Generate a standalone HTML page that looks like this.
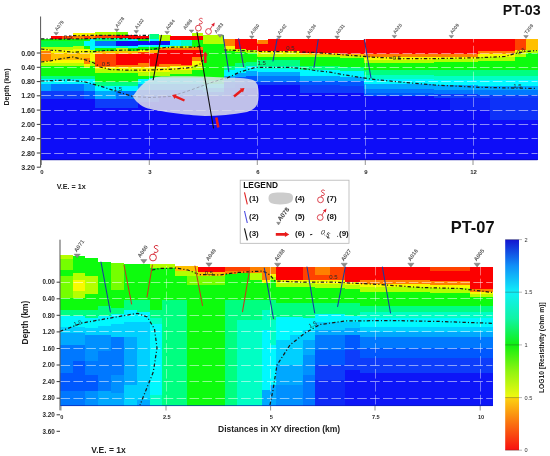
<!DOCTYPE html>
<html><head><meta charset="utf-8"><title>PT-03 / PT-07 resistivity sections</title>
<style>html,body{margin:0;padding:0;background:#fff;width:550px;height:456px;overflow:hidden}
svg{display:block}</style></head><body>
<svg width="550" height="456" viewBox="0 0 550 456" font-family="Liberation Sans, sans-serif">
<rect width="550" height="456" fill="#fff"/>
<defs><clipPath id="ct"><rect x="41" y="20" width="496.5" height="140"/></clipPath><clipPath id="cb"><rect x="60" y="240" width="432.4" height="166"/></clipPath>
<linearGradient id="cbar" x1="0" y1="1" x2="0" y2="0"><stop offset="0" stop-color="#f81010"/><stop offset="0.125" stop-color="#fa7010"/><stop offset="0.245" stop-color="#fcd010"/><stop offset="0.255" stop-color="#eef810"/><stop offset="0.375" stop-color="#90f410"/><stop offset="0.5" stop-color="#10f010"/><stop offset="0.625" stop-color="#10f4a4"/><stop offset="0.75" stop-color="#10f0f8"/><stop offset="0.875" stop-color="#1090f8"/><stop offset="1" stop-color="#1414d0"/></linearGradient><filter id="soft" x="-2%" y="-5%" width="104%" height="110%"><feGaussianBlur stdDeviation="0.7"/></filter><clipPath id="ct2"><rect x="41" y="0" width="497" height="160.2"/></clipPath></defs>
<g id="top" clip-path="url(#ct2)" filter="url(#soft)" shape-rendering="crispEdges"><rect x="41.0" y="38.5" width="10.3" height="2.8" fill="#08fc08"/>
<rect x="41.0" y="41.0" width="10.3" height="6.3" fill="#00fc48"/>
<rect x="41.0" y="47.0" width="10.3" height="2.3" fill="#b4ff00"/>
<rect x="41.0" y="49.0" width="10.3" height="2.3" fill="#f8fa00"/>
<rect x="41.0" y="51.0" width="10.3" height="9.8" fill="#ff8000"/>
<rect x="41.0" y="60.5" width="10.3" height="2.8" fill="#f8fa00"/>
<rect x="41.0" y="63.0" width="10.3" height="3.3" fill="#b4ff00"/>
<rect x="41.0" y="66.0" width="10.3" height="10.3" fill="#08fc08"/>
<rect x="41.0" y="76.0" width="10.3" height="3.3" fill="#00ff80"/>
<rect x="41.0" y="79.0" width="10.3" height="5.3" fill="#00f8ff"/>
<rect x="41.0" y="84.0" width="10.3" height="7.3" fill="#00a8ff"/>
<rect x="41.0" y="91.0" width="10.3" height="8.3" fill="#083cfa"/>
<rect x="41.0" y="99.0" width="10.3" height="61.3" fill="#0a0af8"/>
<rect x="51.0" y="35.6" width="11.3" height="3.7" fill="#fc0404"/>
<rect x="51.0" y="39.0" width="11.3" height="2.3" fill="#08fc08"/>
<rect x="51.0" y="41.0" width="11.3" height="6.3" fill="#00fc48"/>
<rect x="51.0" y="47.0" width="11.3" height="2.8" fill="#b4ff00"/>
<rect x="51.0" y="49.5" width="11.3" height="3.8" fill="#f8fa00"/>
<rect x="51.0" y="53.0" width="11.3" height="6.8" fill="#ffc000"/>
<rect x="51.0" y="59.5" width="11.3" height="3.3" fill="#f8fa00"/>
<rect x="51.0" y="62.5" width="11.3" height="3.8" fill="#b4ff00"/>
<rect x="51.0" y="66.0" width="11.3" height="10.3" fill="#08fc08"/>
<rect x="51.0" y="76.0" width="11.3" height="3.3" fill="#00ff80"/>
<rect x="51.0" y="79.0" width="11.3" height="5.3" fill="#00f8ff"/>
<rect x="51.0" y="84.0" width="11.3" height="7.3" fill="#0078ff"/>
<rect x="51.0" y="91.0" width="11.3" height="8.3" fill="#083cfa"/>
<rect x="51.0" y="99.0" width="11.3" height="61.3" fill="#0a0af8"/>
<rect x="62.0" y="35.6" width="11.3" height="3.7" fill="#ff4200"/>
<rect x="62.0" y="39.0" width="11.3" height="2.3" fill="#08fc08"/>
<rect x="62.0" y="41.0" width="11.3" height="6.3" fill="#00fc48"/>
<rect x="62.0" y="47.0" width="11.3" height="2.8" fill="#b4ff00"/>
<rect x="62.0" y="49.5" width="11.3" height="3.8" fill="#f8fa00"/>
<rect x="62.0" y="53.0" width="11.3" height="6.8" fill="#ffc000"/>
<rect x="62.0" y="59.5" width="11.3" height="3.3" fill="#f8fa00"/>
<rect x="62.0" y="62.5" width="11.3" height="3.8" fill="#b4ff00"/>
<rect x="62.0" y="66.0" width="11.3" height="10.3" fill="#08fc08"/>
<rect x="62.0" y="76.0" width="11.3" height="3.3" fill="#00ff80"/>
<rect x="62.0" y="79.0" width="11.3" height="5.3" fill="#00f8ff"/>
<rect x="62.0" y="84.0" width="11.3" height="7.3" fill="#0078ff"/>
<rect x="62.0" y="91.0" width="11.3" height="8.3" fill="#083cfa"/>
<rect x="62.0" y="99.0" width="11.3" height="61.3" fill="#0a0af8"/>
<rect x="73.0" y="32.9" width="11.3" height="3.0" fill="#f8fa00"/>
<rect x="73.0" y="35.6" width="11.3" height="3.7" fill="#ff8000"/>
<rect x="73.0" y="39.0" width="11.3" height="2.3" fill="#08fc08"/>
<rect x="73.0" y="41.0" width="11.3" height="5.3" fill="#00fc48"/>
<rect x="73.0" y="46.0" width="11.3" height="3.3" fill="#b4ff00"/>
<rect x="73.0" y="49.0" width="11.3" height="4.3" fill="#f8fa00"/>
<rect x="73.0" y="53.0" width="11.3" height="7.3" fill="#ffc000"/>
<rect x="73.0" y="60.0" width="11.3" height="3.3" fill="#f8fa00"/>
<rect x="73.0" y="63.0" width="11.3" height="3.3" fill="#b4ff00"/>
<rect x="73.0" y="66.0" width="11.3" height="10.3" fill="#08fc08"/>
<rect x="73.0" y="76.0" width="11.3" height="3.3" fill="#00ff80"/>
<rect x="73.0" y="79.0" width="11.3" height="5.3" fill="#00f8ff"/>
<rect x="73.0" y="84.0" width="11.3" height="7.3" fill="#0078ff"/>
<rect x="73.0" y="91.0" width="11.3" height="8.3" fill="#083cfa"/>
<rect x="73.0" y="99.0" width="11.3" height="61.3" fill="#0a0af8"/>
<rect x="84.0" y="32.9" width="6.3" height="3.0" fill="#f8fa00"/>
<rect x="84.0" y="35.6" width="6.3" height="3.5" fill="#ff4200"/>
<rect x="84.0" y="38.8" width="6.3" height="2.5" fill="#08fc08"/>
<rect x="84.0" y="41.0" width="6.3" height="5.3" fill="#00f8ff"/>
<rect x="84.0" y="46.0" width="6.3" height="3.3" fill="#08fc08"/>
<rect x="84.0" y="49.0" width="6.3" height="4.3" fill="#f8fa00"/>
<rect x="84.0" y="53.0" width="6.3" height="5.3" fill="#ffc000"/>
<rect x="84.0" y="58.0" width="6.3" height="6.0" fill="#ff8000"/>
<rect x="84.0" y="63.7" width="6.3" height="2.6" fill="#f8fa00"/>
<rect x="84.0" y="66.0" width="6.3" height="2.3" fill="#b4ff00"/>
<rect x="84.0" y="68.0" width="6.3" height="8.3" fill="#08fc08"/>
<rect x="84.0" y="76.0" width="6.3" height="3.3" fill="#00ff80"/>
<rect x="84.0" y="79.0" width="6.3" height="5.3" fill="#00f8ff"/>
<rect x="84.0" y="84.0" width="6.3" height="7.3" fill="#00a8ff"/>
<rect x="84.0" y="91.0" width="6.3" height="8.3" fill="#0058ff"/>
<rect x="84.0" y="99.0" width="6.3" height="61.3" fill="#0a0af8"/>
<rect x="90.0" y="32.9" width="4.9" height="3.0" fill="#f8fa00"/>
<rect x="90.0" y="35.6" width="4.9" height="3.5" fill="#ff8000"/>
<rect x="90.0" y="38.8" width="4.9" height="11.2" fill="#00f8ff"/>
<rect x="90.0" y="49.7" width="4.9" height="3.1" fill="#b4ff00"/>
<rect x="90.0" y="52.5" width="4.9" height="8.8" fill="#f8fa00"/>
<rect x="90.0" y="61.0" width="4.9" height="5.3" fill="#b4ff00"/>
<rect x="90.0" y="66.0" width="4.9" height="10.3" fill="#08fc08"/>
<rect x="90.0" y="76.0" width="4.9" height="3.3" fill="#00ff80"/>
<rect x="90.0" y="79.0" width="4.9" height="5.3" fill="#00f8ff"/>
<rect x="90.0" y="84.0" width="4.9" height="7.3" fill="#00a8ff"/>
<rect x="90.0" y="91.0" width="4.9" height="8.3" fill="#0058ff"/>
<rect x="90.0" y="99.0" width="4.9" height="61.3" fill="#0a0af8"/>
<rect x="94.6" y="32.0" width="10.7" height="3.1" fill="#b4ff00"/>
<rect x="94.6" y="34.8" width="10.7" height="3.8" fill="#ff4200"/>
<rect x="94.6" y="38.3" width="10.7" height="3.1" fill="#00ff80"/>
<rect x="94.6" y="41.1" width="10.7" height="5.4" fill="#0078ff"/>
<rect x="94.6" y="46.2" width="10.7" height="2.1" fill="#00f8ff"/>
<rect x="94.6" y="48.0" width="10.7" height="3.3" fill="#08fc08"/>
<rect x="94.6" y="51.0" width="10.7" height="3.0" fill="#ffc000"/>
<rect x="94.6" y="53.7" width="10.7" height="12.2" fill="#ff4200"/>
<rect x="94.6" y="65.6" width="10.7" height="2.0" fill="#ff8000"/>
<rect x="94.6" y="67.3" width="10.7" height="2.0" fill="#f8fa00"/>
<rect x="94.6" y="69.0" width="10.7" height="4.3" fill="#b4ff00"/>
<rect x="94.6" y="73.0" width="10.7" height="9.3" fill="#08fc08"/>
<rect x="94.6" y="82.0" width="10.7" height="4.3" fill="#00ff80"/>
<rect x="94.6" y="86.0" width="10.7" height="5.3" fill="#00f8ff"/>
<rect x="94.6" y="91.0" width="10.7" height="8.3" fill="#00a8ff"/>
<rect x="94.6" y="99.0" width="10.7" height="9.3" fill="#083cfa"/>
<rect x="94.6" y="108.0" width="10.7" height="52.3" fill="#0a0af8"/>
<rect x="105.0" y="32.0" width="11.5" height="3.1" fill="#b4ff00"/>
<rect x="105.0" y="34.8" width="11.5" height="3.8" fill="#ff4200"/>
<rect x="105.0" y="38.3" width="11.5" height="3.1" fill="#00ff80"/>
<rect x="105.0" y="41.1" width="11.5" height="5.4" fill="#0078ff"/>
<rect x="105.0" y="46.2" width="11.5" height="2.1" fill="#00f8ff"/>
<rect x="105.0" y="48.0" width="11.5" height="3.3" fill="#08fc08"/>
<rect x="105.0" y="51.0" width="11.5" height="3.0" fill="#ffc000"/>
<rect x="105.0" y="53.7" width="11.5" height="12.2" fill="#ff4200"/>
<rect x="105.0" y="65.6" width="11.5" height="2.0" fill="#ff8000"/>
<rect x="105.0" y="67.3" width="11.5" height="2.0" fill="#f8fa00"/>
<rect x="105.0" y="69.0" width="11.5" height="4.3" fill="#b4ff00"/>
<rect x="105.0" y="73.0" width="11.5" height="9.3" fill="#08fc08"/>
<rect x="105.0" y="82.0" width="11.5" height="4.3" fill="#00ff80"/>
<rect x="105.0" y="86.0" width="11.5" height="5.3" fill="#00f8ff"/>
<rect x="105.0" y="91.0" width="11.5" height="8.3" fill="#00a8ff"/>
<rect x="105.0" y="99.0" width="11.5" height="9.3" fill="#083cfa"/>
<rect x="105.0" y="108.0" width="11.5" height="52.3" fill="#0a0af8"/>
<rect x="116.2" y="32.0" width="11.7" height="3.1" fill="#74ff00"/>
<rect x="116.2" y="34.8" width="11.7" height="3.8" fill="#fc0404"/>
<rect x="116.2" y="38.3" width="11.7" height="2.5" fill="#00ffc4"/>
<rect x="116.2" y="40.5" width="11.7" height="6.0" fill="#0a0af8"/>
<rect x="116.2" y="46.2" width="11.7" height="2.1" fill="#00ffc4"/>
<rect x="116.2" y="48.0" width="11.7" height="3.7" fill="#b4ff00"/>
<rect x="116.2" y="51.4" width="11.7" height="2.6" fill="#ffc000"/>
<rect x="116.2" y="53.7" width="11.7" height="11.1" fill="#fc0404"/>
<rect x="116.2" y="64.5" width="11.7" height="3.1" fill="#ff8000"/>
<rect x="116.2" y="67.3" width="11.7" height="2.6" fill="#f8fa00"/>
<rect x="116.2" y="69.6" width="11.7" height="3.7" fill="#b4ff00"/>
<rect x="116.2" y="73.0" width="11.7" height="9.3" fill="#08fc08"/>
<rect x="116.2" y="82.0" width="11.7" height="4.3" fill="#00ff80"/>
<rect x="116.2" y="86.0" width="11.7" height="5.3" fill="#00f8ff"/>
<rect x="116.2" y="91.0" width="11.7" height="8.3" fill="#0078ff"/>
<rect x="116.2" y="99.0" width="11.7" height="9.3" fill="#083cfa"/>
<rect x="116.2" y="108.0" width="11.7" height="52.3" fill="#0a0af8"/>
<rect x="127.6" y="34.8" width="10.7" height="4.3" fill="#fc0404"/>
<rect x="127.6" y="38.8" width="10.7" height="2.0" fill="#00f8ff"/>
<rect x="127.6" y="40.5" width="10.7" height="6.0" fill="#0a0af8"/>
<rect x="127.6" y="46.2" width="10.7" height="2.1" fill="#00f8ff"/>
<rect x="127.6" y="48.0" width="10.7" height="3.3" fill="#08fc08"/>
<rect x="127.6" y="51.0" width="10.7" height="3.0" fill="#ffc000"/>
<rect x="127.6" y="53.7" width="10.7" height="11.1" fill="#fc0404"/>
<rect x="127.6" y="64.5" width="10.7" height="3.1" fill="#ff8000"/>
<rect x="127.6" y="67.3" width="10.7" height="2.6" fill="#f8fa00"/>
<rect x="127.6" y="69.6" width="10.7" height="3.7" fill="#b4ff00"/>
<rect x="127.6" y="73.0" width="10.7" height="9.3" fill="#08fc08"/>
<rect x="127.6" y="82.0" width="10.7" height="4.3" fill="#00ff80"/>
<rect x="127.6" y="86.0" width="10.7" height="5.3" fill="#00f8ff"/>
<rect x="127.6" y="91.0" width="10.7" height="8.3" fill="#0078ff"/>
<rect x="127.6" y="99.0" width="10.7" height="9.3" fill="#083cfa"/>
<rect x="127.6" y="108.0" width="10.7" height="52.3" fill="#0a0af8"/>
<rect x="138.0" y="35.5" width="11.3" height="3.6" fill="#fc0404"/>
<rect x="138.0" y="38.8" width="11.3" height="2.5" fill="#08fc08"/>
<rect x="138.0" y="41.0" width="11.3" height="4.3" fill="#0a0af8"/>
<rect x="138.0" y="45.0" width="11.3" height="2.1" fill="#00f8ff"/>
<rect x="138.0" y="46.8" width="11.3" height="3.7" fill="#08fc08"/>
<rect x="138.0" y="50.2" width="11.3" height="2.1" fill="#f8fa00"/>
<rect x="138.0" y="52.0" width="11.3" height="2.5" fill="#ff4200"/>
<rect x="138.0" y="54.2" width="11.3" height="9.4" fill="#fc0404"/>
<rect x="138.0" y="63.3" width="11.3" height="4.3" fill="#ff8000"/>
<rect x="138.0" y="67.3" width="11.3" height="5.0" fill="#f8fa00"/>
<rect x="138.0" y="72.0" width="11.3" height="4.3" fill="#b4ff00"/>
<rect x="138.0" y="76.0" width="11.3" height="3.3" fill="#08fc08"/>
<rect x="138.0" y="79.0" width="11.3" height="5.3" fill="#00f8ff"/>
<rect x="138.0" y="84.0" width="11.3" height="6.3" fill="#00a8ff"/>
<rect x="138.0" y="90.0" width="11.3" height="6.3" fill="#0058ff"/>
<rect x="138.0" y="96.0" width="11.3" height="6.3" fill="#083cfa"/>
<rect x="138.0" y="102.0" width="11.3" height="58.3" fill="#0a0af8"/>
<rect x="149.0" y="34.3" width="10.1" height="5.4" fill="#00ff80"/>
<rect x="149.0" y="39.4" width="10.1" height="1.9" fill="#00f8ff"/>
<rect x="149.0" y="41.0" width="10.1" height="4.3" fill="#0a0af8"/>
<rect x="149.0" y="45.0" width="10.1" height="2.3" fill="#00f8ff"/>
<rect x="149.0" y="47.0" width="10.1" height="3.3" fill="#08fc08"/>
<rect x="149.0" y="50.0" width="10.1" height="2.8" fill="#ffc000"/>
<rect x="149.0" y="52.5" width="10.1" height="13.4" fill="#fc0404"/>
<rect x="149.0" y="65.6" width="10.1" height="2.0" fill="#ff8000"/>
<rect x="149.0" y="67.3" width="10.1" height="5.0" fill="#f8fa00"/>
<rect x="149.0" y="72.0" width="10.1" height="4.3" fill="#b4ff00"/>
<rect x="149.0" y="76.0" width="10.1" height="2.3" fill="#08fc08"/>
<rect x="149.0" y="78.0" width="10.1" height="6.3" fill="#00f8ff"/>
<rect x="149.0" y="84.0" width="10.1" height="6.3" fill="#00a8ff"/>
<rect x="149.0" y="90.0" width="10.1" height="6.3" fill="#0058ff"/>
<rect x="149.0" y="96.0" width="10.1" height="6.3" fill="#083cfa"/>
<rect x="149.0" y="102.0" width="10.1" height="58.3" fill="#0a0af8"/>
<rect x="158.8" y="35.4" width="11.7" height="5.9" fill="#b4ff00"/>
<rect x="158.8" y="41.0" width="11.7" height="4.5" fill="#0a0af8"/>
<rect x="158.8" y="45.2" width="11.7" height="1.7" fill="#00f8ff"/>
<rect x="158.8" y="46.6" width="11.7" height="2.1" fill="#b4ff00"/>
<rect x="158.8" y="48.4" width="11.7" height="1.7" fill="#ff8000"/>
<rect x="158.8" y="49.8" width="11.7" height="14.5" fill="#fc0404"/>
<rect x="158.8" y="64.0" width="11.7" height="3.1" fill="#ff8000"/>
<rect x="158.8" y="66.8" width="11.7" height="5.5" fill="#f8fa00"/>
<rect x="158.8" y="72.0" width="11.7" height="4.3" fill="#b4ff00"/>
<rect x="158.8" y="76.0" width="11.7" height="2.3" fill="#08fc08"/>
<rect x="158.8" y="78.0" width="11.7" height="6.3" fill="#00f8ff"/>
<rect x="158.8" y="84.0" width="11.7" height="6.3" fill="#00a8ff"/>
<rect x="158.8" y="90.0" width="11.7" height="6.3" fill="#0058ff"/>
<rect x="158.8" y="96.0" width="11.7" height="64.3" fill="#0a0af8"/>
<rect x="170.2" y="35.5" width="11.1" height="4.5" fill="#fc0404"/>
<rect x="170.2" y="39.7" width="11.1" height="6.2" fill="#00f8ff"/>
<rect x="170.2" y="45.6" width="11.1" height="2.2" fill="#b4ff00"/>
<rect x="170.2" y="47.5" width="11.1" height="2.6" fill="#ff8000"/>
<rect x="170.2" y="49.8" width="11.1" height="14.5" fill="#fc0404"/>
<rect x="170.2" y="64.0" width="11.1" height="2.3" fill="#ff8000"/>
<rect x="170.2" y="66.0" width="11.1" height="4.3" fill="#f8fa00"/>
<rect x="170.2" y="70.0" width="11.1" height="4.3" fill="#b4ff00"/>
<rect x="170.2" y="74.0" width="11.1" height="4.3" fill="#08fc08"/>
<rect x="170.2" y="78.0" width="11.1" height="6.3" fill="#00f8ff"/>
<rect x="170.2" y="84.0" width="11.1" height="6.3" fill="#00a8ff"/>
<rect x="170.2" y="90.0" width="11.1" height="6.3" fill="#0058ff"/>
<rect x="170.2" y="96.0" width="11.1" height="64.3" fill="#0a0af8"/>
<rect x="181.0" y="35.5" width="11.2" height="4.5" fill="#fc0404"/>
<rect x="181.0" y="39.7" width="11.2" height="6.2" fill="#00ffc4"/>
<rect x="181.0" y="45.6" width="11.2" height="2.2" fill="#b4ff00"/>
<rect x="181.0" y="47.5" width="11.2" height="2.6" fill="#ff8000"/>
<rect x="181.0" y="49.8" width="11.2" height="15.0" fill="#fc0404"/>
<rect x="181.0" y="64.5" width="11.2" height="1.8" fill="#ff8000"/>
<rect x="181.0" y="66.0" width="11.2" height="4.3" fill="#f8fa00"/>
<rect x="181.0" y="70.0" width="11.2" height="4.3" fill="#b4ff00"/>
<rect x="181.0" y="74.0" width="11.2" height="4.3" fill="#08fc08"/>
<rect x="181.0" y="78.0" width="11.2" height="6.3" fill="#00f8ff"/>
<rect x="181.0" y="84.0" width="11.2" height="6.3" fill="#00a8ff"/>
<rect x="181.0" y="90.0" width="11.2" height="6.3" fill="#0058ff"/>
<rect x="181.0" y="96.0" width="11.2" height="64.3" fill="#0a0af8"/>
<rect x="191.9" y="32.8" width="11.4" height="3.0" fill="#b4ff00"/>
<rect x="191.9" y="35.5" width="11.4" height="4.5" fill="#fc0404"/>
<rect x="191.9" y="39.7" width="11.4" height="7.6" fill="#08fc08"/>
<rect x="191.9" y="47.0" width="11.4" height="3.1" fill="#ff8000"/>
<rect x="191.9" y="49.8" width="11.4" height="7.2" fill="#fc0404"/>
<rect x="191.9" y="56.7" width="11.4" height="4.9" fill="#ff8000"/>
<rect x="191.9" y="61.3" width="11.4" height="4.9" fill="#f8fa00"/>
<rect x="191.9" y="65.9" width="11.4" height="4.4" fill="#b4ff00"/>
<rect x="191.9" y="70.0" width="11.4" height="8.3" fill="#08fc08"/>
<rect x="191.9" y="78.0" width="11.4" height="6.3" fill="#00f8ff"/>
<rect x="191.9" y="84.0" width="11.4" height="6.3" fill="#00a8ff"/>
<rect x="191.9" y="90.0" width="11.4" height="6.3" fill="#0058ff"/>
<rect x="191.9" y="96.0" width="11.4" height="64.3" fill="#0a0af8"/>
<rect x="203.0" y="34.5" width="10.3" height="9.8" fill="#b4ff00"/>
<rect x="203.0" y="44.0" width="10.3" height="36.3" fill="#08fc08"/>
<rect x="203.0" y="80.0" width="10.3" height="4.3" fill="#00ff80"/>
<rect x="203.0" y="84.0" width="10.3" height="4.3" fill="#00f8ff"/>
<rect x="203.0" y="88.0" width="10.3" height="4.3" fill="#00a8ff"/>
<rect x="203.0" y="92.0" width="10.3" height="4.3" fill="#0058ff"/>
<rect x="203.0" y="96.0" width="10.3" height="64.3" fill="#0a0af8"/>
<rect x="213.0" y="34.5" width="11.3" height="9.8" fill="#b4ff00"/>
<rect x="213.0" y="44.0" width="11.3" height="36.3" fill="#08fc08"/>
<rect x="213.0" y="80.0" width="11.3" height="4.3" fill="#00ff80"/>
<rect x="213.0" y="84.0" width="11.3" height="4.3" fill="#00f8ff"/>
<rect x="213.0" y="88.0" width="11.3" height="4.3" fill="#00a8ff"/>
<rect x="213.0" y="92.0" width="11.3" height="4.3" fill="#0058ff"/>
<rect x="213.0" y="96.0" width="11.3" height="64.3" fill="#0a0af8"/>
<rect x="224.0" y="38.7" width="11.3" height="7.6" fill="#ff8000"/>
<rect x="224.0" y="46.0" width="11.3" height="3.3" fill="#f8fa00"/>
<rect x="224.0" y="49.0" width="11.3" height="2.3" fill="#b4ff00"/>
<rect x="224.0" y="51.0" width="11.3" height="15.3" fill="#08fc08"/>
<rect x="224.0" y="66.0" width="11.3" height="4.3" fill="#00ff80"/>
<rect x="224.0" y="70.0" width="11.3" height="6.3" fill="#00f8ff"/>
<rect x="224.0" y="76.0" width="11.3" height="6.3" fill="#00a8ff"/>
<rect x="224.0" y="82.0" width="11.3" height="6.3" fill="#0058ff"/>
<rect x="224.0" y="88.0" width="11.3" height="7.3" fill="#083cfa"/>
<rect x="224.0" y="95.0" width="11.3" height="65.3" fill="#0a0af8"/>
<rect x="235.0" y="38.7" width="11.3" height="11.0" fill="#fc0404"/>
<rect x="235.0" y="49.4" width="11.3" height="2.9" fill="#b4ff00"/>
<rect x="235.0" y="52.0" width="11.3" height="11.3" fill="#08fc08"/>
<rect x="235.0" y="63.0" width="11.3" height="5.3" fill="#00ff80"/>
<rect x="235.0" y="68.0" width="11.3" height="5.3" fill="#00f8ff"/>
<rect x="235.0" y="73.0" width="11.3" height="4.3" fill="#00a8ff"/>
<rect x="235.0" y="77.0" width="11.3" height="7.3" fill="#0058ff"/>
<rect x="235.0" y="84.0" width="11.3" height="8.3" fill="#083cfa"/>
<rect x="235.0" y="92.0" width="11.3" height="68.3" fill="#0a0af8"/>
<rect x="246.0" y="39.0" width="11.3" height="11.3" fill="#fc0404"/>
<rect x="246.0" y="50.0" width="11.3" height="3.3" fill="#b4ff00"/>
<rect x="246.0" y="53.0" width="11.3" height="9.3" fill="#08fc08"/>
<rect x="246.0" y="62.0" width="11.3" height="4.3" fill="#00ff80"/>
<rect x="246.0" y="66.0" width="11.3" height="5.3" fill="#00f8ff"/>
<rect x="246.0" y="71.0" width="11.3" height="5.3" fill="#00a8ff"/>
<rect x="246.0" y="76.0" width="11.3" height="6.3" fill="#0058ff"/>
<rect x="246.0" y="82.0" width="11.3" height="6.3" fill="#083cfa"/>
<rect x="246.0" y="88.0" width="11.3" height="72.3" fill="#0a0af8"/>
<rect x="257.0" y="39.5" width="11.3" height="1.1" fill="#fc0404"/>
<rect x="257.0" y="40.3" width="11.3" height="3.6" fill="#ff8000"/>
<rect x="257.0" y="43.6" width="11.3" height="7.7" fill="#fc0404"/>
<rect x="257.0" y="51.0" width="11.3" height="3.3" fill="#f8fa00"/>
<rect x="257.0" y="54.0" width="11.3" height="3.1" fill="#b4ff00"/>
<rect x="257.0" y="56.8" width="11.3" height="3.5" fill="#08fc08"/>
<rect x="257.0" y="60.0" width="11.3" height="6.3" fill="#00ff80"/>
<rect x="257.0" y="66.0" width="11.3" height="3.3" fill="#00ffc4"/>
<rect x="257.0" y="69.0" width="11.3" height="3.3" fill="#00f8ff"/>
<rect x="257.0" y="72.0" width="11.3" height="4.3" fill="#00a8ff"/>
<rect x="257.0" y="76.0" width="11.3" height="5.8" fill="#0078ff"/>
<rect x="257.0" y="81.5" width="11.3" height="3.8" fill="#083cfa"/>
<rect x="257.0" y="85.0" width="11.3" height="75.3" fill="#0a0af8"/>
<rect x="268.0" y="38.7" width="11.3" height="12.6" fill="#fc0404"/>
<rect x="268.0" y="51.0" width="11.3" height="3.3" fill="#f8fa00"/>
<rect x="268.0" y="54.0" width="11.3" height="3.1" fill="#b4ff00"/>
<rect x="268.0" y="56.8" width="11.3" height="3.5" fill="#08fc08"/>
<rect x="268.0" y="60.0" width="11.3" height="6.3" fill="#00ff80"/>
<rect x="268.0" y="66.0" width="11.3" height="3.3" fill="#00ffc4"/>
<rect x="268.0" y="69.0" width="11.3" height="3.3" fill="#00f8ff"/>
<rect x="268.0" y="72.0" width="11.3" height="4.3" fill="#00a8ff"/>
<rect x="268.0" y="76.0" width="11.3" height="5.8" fill="#0078ff"/>
<rect x="268.0" y="81.5" width="11.3" height="3.8" fill="#083cfa"/>
<rect x="268.0" y="85.0" width="11.3" height="75.3" fill="#0a0af8"/>
<rect x="279.0" y="38.7" width="11.3" height="12.6" fill="#fc0404"/>
<rect x="279.0" y="51.0" width="11.3" height="3.3" fill="#f8fa00"/>
<rect x="279.0" y="54.0" width="11.3" height="3.1" fill="#b4ff00"/>
<rect x="279.0" y="56.8" width="11.3" height="3.5" fill="#08fc08"/>
<rect x="279.0" y="60.0" width="11.3" height="6.3" fill="#00ff80"/>
<rect x="279.0" y="66.0" width="11.3" height="3.3" fill="#00ffc4"/>
<rect x="279.0" y="69.0" width="11.3" height="3.3" fill="#00f8ff"/>
<rect x="279.0" y="72.0" width="11.3" height="4.3" fill="#00a8ff"/>
<rect x="279.0" y="76.0" width="11.3" height="5.8" fill="#0078ff"/>
<rect x="279.0" y="81.5" width="11.3" height="3.8" fill="#083cfa"/>
<rect x="279.0" y="85.0" width="11.3" height="75.3" fill="#0a0af8"/>
<rect x="290.0" y="38.7" width="10.3" height="12.6" fill="#fc0404"/>
<rect x="290.0" y="51.0" width="10.3" height="3.3" fill="#f8fa00"/>
<rect x="290.0" y="54.0" width="10.3" height="3.1" fill="#b4ff00"/>
<rect x="290.0" y="56.8" width="10.3" height="3.5" fill="#08fc08"/>
<rect x="290.0" y="60.0" width="10.3" height="6.3" fill="#00ff80"/>
<rect x="290.0" y="66.0" width="10.3" height="3.3" fill="#00ffc4"/>
<rect x="290.0" y="69.0" width="10.3" height="3.3" fill="#00f8ff"/>
<rect x="290.0" y="72.0" width="10.3" height="4.3" fill="#00a8ff"/>
<rect x="290.0" y="76.0" width="10.3" height="5.8" fill="#0078ff"/>
<rect x="290.0" y="81.5" width="10.3" height="3.8" fill="#083cfa"/>
<rect x="290.0" y="85.0" width="10.3" height="75.3" fill="#0a0af8"/>
<rect x="300.0" y="38.9" width="11.3" height="13.9" fill="#fc0404"/>
<rect x="300.0" y="52.5" width="11.3" height="2.8" fill="#ffc000"/>
<rect x="300.0" y="55.0" width="11.3" height="2.3" fill="#b4ff00"/>
<rect x="300.0" y="57.0" width="11.3" height="9.3" fill="#08fc08"/>
<rect x="300.0" y="66.0" width="11.3" height="4.3" fill="#00ff80"/>
<rect x="300.0" y="70.0" width="11.3" height="6.3" fill="#00f8ff"/>
<rect x="300.0" y="76.0" width="11.3" height="4.8" fill="#00a8ff"/>
<rect x="300.0" y="80.5" width="11.3" height="4.8" fill="#0058ff"/>
<rect x="300.0" y="85.0" width="11.3" height="8.3" fill="#083cfa"/>
<rect x="300.0" y="93.0" width="11.3" height="67.3" fill="#0a0af8"/>
<rect x="311.0" y="38.9" width="11.3" height="13.9" fill="#fc0404"/>
<rect x="311.0" y="52.5" width="11.3" height="2.8" fill="#ffc000"/>
<rect x="311.0" y="55.0" width="11.3" height="2.3" fill="#b4ff00"/>
<rect x="311.0" y="57.0" width="11.3" height="9.3" fill="#08fc08"/>
<rect x="311.0" y="66.0" width="11.3" height="4.3" fill="#00ff80"/>
<rect x="311.0" y="70.0" width="11.3" height="6.3" fill="#00f8ff"/>
<rect x="311.0" y="76.0" width="11.3" height="4.8" fill="#00a8ff"/>
<rect x="311.0" y="80.5" width="11.3" height="4.8" fill="#0058ff"/>
<rect x="311.0" y="85.0" width="11.3" height="8.3" fill="#083cfa"/>
<rect x="311.0" y="93.0" width="11.3" height="67.3" fill="#0a0af8"/>
<rect x="322.0" y="38.9" width="8.3" height="13.9" fill="#fc0404"/>
<rect x="322.0" y="52.5" width="8.3" height="2.8" fill="#ffc000"/>
<rect x="322.0" y="55.0" width="8.3" height="2.3" fill="#b4ff00"/>
<rect x="322.0" y="57.0" width="8.3" height="9.3" fill="#08fc08"/>
<rect x="322.0" y="66.0" width="8.3" height="4.3" fill="#00ff80"/>
<rect x="322.0" y="70.0" width="8.3" height="6.3" fill="#00f8ff"/>
<rect x="322.0" y="76.0" width="8.3" height="4.8" fill="#00a8ff"/>
<rect x="322.0" y="80.5" width="8.3" height="4.8" fill="#0058ff"/>
<rect x="322.0" y="85.0" width="8.3" height="8.3" fill="#083cfa"/>
<rect x="322.0" y="93.0" width="8.3" height="67.3" fill="#0a0af8"/>
<rect x="330.0" y="38.9" width="10.3" height="13.9" fill="#fc0404"/>
<rect x="330.0" y="52.5" width="10.3" height="2.8" fill="#ffc000"/>
<rect x="330.0" y="55.0" width="10.3" height="2.3" fill="#b4ff00"/>
<rect x="330.0" y="57.0" width="10.3" height="9.3" fill="#08fc08"/>
<rect x="330.0" y="66.0" width="10.3" height="4.3" fill="#00ff80"/>
<rect x="330.0" y="70.0" width="10.3" height="6.3" fill="#00f8ff"/>
<rect x="330.0" y="76.0" width="10.3" height="4.8" fill="#00a8ff"/>
<rect x="330.0" y="80.5" width="10.3" height="4.8" fill="#0058ff"/>
<rect x="330.0" y="85.0" width="10.3" height="8.3" fill="#083cfa"/>
<rect x="330.0" y="93.0" width="10.3" height="67.3" fill="#0a0af8"/>
<rect x="340.0" y="39.5" width="12.3" height="14.8" fill="#fc0404"/>
<rect x="340.0" y="54.0" width="12.3" height="2.3" fill="#ffc000"/>
<rect x="340.0" y="56.0" width="12.3" height="2.3" fill="#b4ff00"/>
<rect x="340.0" y="58.0" width="12.3" height="9.3" fill="#08fc08"/>
<rect x="340.0" y="67.0" width="12.3" height="4.3" fill="#00ff80"/>
<rect x="340.0" y="71.0" width="12.3" height="6.3" fill="#00f8ff"/>
<rect x="340.0" y="77.0" width="12.3" height="4.3" fill="#00a8ff"/>
<rect x="340.0" y="81.0" width="12.3" height="5.3" fill="#0058ff"/>
<rect x="340.0" y="86.0" width="12.3" height="7.3" fill="#083cfa"/>
<rect x="340.0" y="93.0" width="12.3" height="67.3" fill="#0a0af8"/>
<rect x="352.0" y="39.5" width="12.3" height="14.8" fill="#fc0404"/>
<rect x="352.0" y="54.0" width="12.3" height="2.3" fill="#ffc000"/>
<rect x="352.0" y="56.0" width="12.3" height="2.3" fill="#b4ff00"/>
<rect x="352.0" y="58.0" width="12.3" height="9.3" fill="#08fc08"/>
<rect x="352.0" y="67.0" width="12.3" height="4.3" fill="#00ff80"/>
<rect x="352.0" y="71.0" width="12.3" height="6.3" fill="#00f8ff"/>
<rect x="352.0" y="77.0" width="12.3" height="4.3" fill="#00a8ff"/>
<rect x="352.0" y="81.0" width="12.3" height="5.3" fill="#0058ff"/>
<rect x="352.0" y="86.0" width="12.3" height="7.3" fill="#083cfa"/>
<rect x="352.0" y="93.0" width="12.3" height="67.3" fill="#0a0af8"/>
<rect x="364.0" y="38.9" width="11.3" height="15.4" fill="#fc0404"/>
<rect x="364.0" y="54.0" width="11.3" height="3.3" fill="#ff8000"/>
<rect x="364.0" y="57.0" width="11.3" height="3.3" fill="#f8fa00"/>
<rect x="364.0" y="60.0" width="11.3" height="3.3" fill="#b4ff00"/>
<rect x="364.0" y="63.0" width="11.3" height="7.3" fill="#08fc08"/>
<rect x="364.0" y="70.0" width="11.3" height="5.3" fill="#00ff80"/>
<rect x="364.0" y="75.0" width="11.3" height="4.3" fill="#00ffc4"/>
<rect x="364.0" y="79.0" width="11.3" height="5.3" fill="#00f8ff"/>
<rect x="364.0" y="84.0" width="11.3" height="5.3" fill="#00a8ff"/>
<rect x="364.0" y="89.0" width="11.3" height="3.8" fill="#0078ff"/>
<rect x="364.0" y="92.5" width="11.3" height="3.8" fill="#0058ff"/>
<rect x="364.0" y="96.0" width="11.3" height="64.3" fill="#0a0af8"/>
<rect x="375.0" y="38.9" width="11.3" height="15.4" fill="#fc0404"/>
<rect x="375.0" y="54.0" width="11.3" height="3.3" fill="#ff8000"/>
<rect x="375.0" y="57.0" width="11.3" height="3.3" fill="#f8fa00"/>
<rect x="375.0" y="60.0" width="11.3" height="3.3" fill="#b4ff00"/>
<rect x="375.0" y="63.0" width="11.3" height="7.3" fill="#08fc08"/>
<rect x="375.0" y="70.0" width="11.3" height="5.3" fill="#00ff80"/>
<rect x="375.0" y="75.0" width="11.3" height="4.3" fill="#00ffc4"/>
<rect x="375.0" y="79.0" width="11.3" height="5.3" fill="#00f8ff"/>
<rect x="375.0" y="84.0" width="11.3" height="5.3" fill="#00a8ff"/>
<rect x="375.0" y="89.0" width="11.3" height="3.8" fill="#0078ff"/>
<rect x="375.0" y="92.5" width="11.3" height="3.8" fill="#0058ff"/>
<rect x="375.0" y="96.0" width="11.3" height="64.3" fill="#0a0af8"/>
<rect x="386.0" y="38.9" width="11.3" height="15.4" fill="#fc0404"/>
<rect x="386.0" y="54.0" width="11.3" height="3.3" fill="#ff8000"/>
<rect x="386.0" y="57.0" width="11.3" height="3.3" fill="#f8fa00"/>
<rect x="386.0" y="60.0" width="11.3" height="3.3" fill="#b4ff00"/>
<rect x="386.0" y="63.0" width="11.3" height="7.3" fill="#08fc08"/>
<rect x="386.0" y="70.0" width="11.3" height="5.3" fill="#00ff80"/>
<rect x="386.0" y="75.0" width="11.3" height="4.3" fill="#00ffc4"/>
<rect x="386.0" y="79.0" width="11.3" height="5.3" fill="#00f8ff"/>
<rect x="386.0" y="84.0" width="11.3" height="5.3" fill="#00a8ff"/>
<rect x="386.0" y="89.0" width="11.3" height="3.8" fill="#0078ff"/>
<rect x="386.0" y="92.5" width="11.3" height="3.8" fill="#0058ff"/>
<rect x="386.0" y="96.0" width="11.3" height="64.3" fill="#0a0af8"/>
<rect x="397.0" y="38.9" width="11.3" height="15.4" fill="#fc0404"/>
<rect x="397.0" y="54.0" width="11.3" height="3.3" fill="#ff8000"/>
<rect x="397.0" y="57.0" width="11.3" height="3.3" fill="#f8fa00"/>
<rect x="397.0" y="60.0" width="11.3" height="3.3" fill="#b4ff00"/>
<rect x="397.0" y="63.0" width="11.3" height="7.3" fill="#08fc08"/>
<rect x="397.0" y="70.0" width="11.3" height="5.3" fill="#00ff80"/>
<rect x="397.0" y="75.0" width="11.3" height="4.3" fill="#00ffc4"/>
<rect x="397.0" y="79.0" width="11.3" height="5.3" fill="#00f8ff"/>
<rect x="397.0" y="84.0" width="11.3" height="5.3" fill="#00a8ff"/>
<rect x="397.0" y="89.0" width="11.3" height="3.8" fill="#0078ff"/>
<rect x="397.0" y="92.5" width="11.3" height="3.8" fill="#0058ff"/>
<rect x="397.0" y="96.0" width="11.3" height="64.3" fill="#0a0af8"/>
<rect x="408.0" y="38.9" width="12.3" height="15.4" fill="#fc0404"/>
<rect x="408.0" y="54.0" width="12.3" height="3.3" fill="#ff8000"/>
<rect x="408.0" y="57.0" width="12.3" height="3.3" fill="#f8fa00"/>
<rect x="408.0" y="60.0" width="12.3" height="3.3" fill="#b4ff00"/>
<rect x="408.0" y="63.0" width="12.3" height="7.3" fill="#08fc08"/>
<rect x="408.0" y="70.0" width="12.3" height="5.3" fill="#00ff80"/>
<rect x="408.0" y="75.0" width="12.3" height="4.3" fill="#00ffc4"/>
<rect x="408.0" y="79.0" width="12.3" height="5.3" fill="#00f8ff"/>
<rect x="408.0" y="84.0" width="12.3" height="5.3" fill="#00a8ff"/>
<rect x="408.0" y="89.0" width="12.3" height="3.8" fill="#0078ff"/>
<rect x="408.0" y="92.5" width="12.3" height="3.8" fill="#0058ff"/>
<rect x="408.0" y="96.0" width="12.3" height="64.3" fill="#0a0af8"/>
<rect x="420.0" y="38.9" width="14.3" height="15.4" fill="#fc0404"/>
<rect x="420.0" y="54.0" width="14.3" height="3.3" fill="#ff8000"/>
<rect x="420.0" y="57.0" width="14.3" height="3.3" fill="#f8fa00"/>
<rect x="420.0" y="60.0" width="14.3" height="3.3" fill="#b4ff00"/>
<rect x="420.0" y="63.0" width="14.3" height="7.3" fill="#08fc08"/>
<rect x="420.0" y="70.0" width="14.3" height="5.3" fill="#00ff80"/>
<rect x="420.0" y="75.0" width="14.3" height="4.3" fill="#00ffc4"/>
<rect x="420.0" y="79.0" width="14.3" height="5.3" fill="#00f8ff"/>
<rect x="420.0" y="84.0" width="14.3" height="5.3" fill="#00a8ff"/>
<rect x="420.0" y="89.0" width="14.3" height="3.8" fill="#0078ff"/>
<rect x="420.0" y="92.5" width="14.3" height="3.8" fill="#0058ff"/>
<rect x="420.0" y="96.0" width="14.3" height="64.3" fill="#0a0af8"/>
<rect x="434.0" y="38.7" width="7.3" height="15.9" fill="#fc0404"/>
<rect x="434.0" y="54.3" width="7.3" height="2.8" fill="#ff8000"/>
<rect x="434.0" y="56.8" width="7.3" height="2.7" fill="#f8fa00"/>
<rect x="434.0" y="59.2" width="7.3" height="2.8" fill="#b4ff00"/>
<rect x="434.0" y="61.7" width="7.3" height="8.6" fill="#08fc08"/>
<rect x="434.0" y="70.0" width="7.3" height="6.3" fill="#00ff80"/>
<rect x="434.0" y="76.0" width="7.3" height="4.3" fill="#00ffc4"/>
<rect x="434.0" y="80.0" width="7.3" height="5.3" fill="#00f8ff"/>
<rect x="434.0" y="85.0" width="7.3" height="4.8" fill="#00a8ff"/>
<rect x="434.0" y="89.5" width="7.3" height="4.8" fill="#0078ff"/>
<rect x="434.0" y="94.0" width="7.3" height="4.3" fill="#083cfa"/>
<rect x="434.0" y="98.0" width="7.3" height="62.3" fill="#0a0af8"/>
<rect x="441.0" y="38.7" width="11.3" height="15.9" fill="#fc0404"/>
<rect x="441.0" y="54.3" width="11.3" height="2.8" fill="#ff8000"/>
<rect x="441.0" y="56.8" width="11.3" height="2.7" fill="#f8fa00"/>
<rect x="441.0" y="59.2" width="11.3" height="2.8" fill="#b4ff00"/>
<rect x="441.0" y="61.7" width="11.3" height="8.6" fill="#08fc08"/>
<rect x="441.0" y="70.0" width="11.3" height="6.3" fill="#00ff80"/>
<rect x="441.0" y="76.0" width="11.3" height="4.3" fill="#00ffc4"/>
<rect x="441.0" y="80.0" width="11.3" height="5.3" fill="#00f8ff"/>
<rect x="441.0" y="85.0" width="11.3" height="4.8" fill="#00a8ff"/>
<rect x="441.0" y="89.5" width="11.3" height="4.8" fill="#0078ff"/>
<rect x="441.0" y="94.0" width="11.3" height="4.3" fill="#083cfa"/>
<rect x="441.0" y="98.0" width="11.3" height="62.3" fill="#0a0af8"/>
<rect x="452.0" y="38.7" width="11.3" height="15.9" fill="#fc0404"/>
<rect x="452.0" y="54.3" width="11.3" height="2.8" fill="#ff8000"/>
<rect x="452.0" y="56.8" width="11.3" height="2.7" fill="#f8fa00"/>
<rect x="452.0" y="59.2" width="11.3" height="2.8" fill="#b4ff00"/>
<rect x="452.0" y="61.7" width="11.3" height="8.6" fill="#08fc08"/>
<rect x="452.0" y="70.0" width="11.3" height="6.3" fill="#00ff80"/>
<rect x="452.0" y="76.0" width="11.3" height="4.3" fill="#00ffc4"/>
<rect x="452.0" y="80.0" width="11.3" height="5.3" fill="#00f8ff"/>
<rect x="452.0" y="85.0" width="11.3" height="4.8" fill="#00a8ff"/>
<rect x="452.0" y="89.5" width="11.3" height="4.8" fill="#0078ff"/>
<rect x="452.0" y="94.0" width="11.3" height="4.3" fill="#083cfa"/>
<rect x="452.0" y="98.0" width="11.3" height="62.3" fill="#0a0af8"/>
<rect x="463.0" y="38.7" width="15.3" height="15.9" fill="#fc0404"/>
<rect x="463.0" y="54.3" width="15.3" height="2.8" fill="#ff8000"/>
<rect x="463.0" y="56.8" width="15.3" height="2.7" fill="#f8fa00"/>
<rect x="463.0" y="59.2" width="15.3" height="2.8" fill="#b4ff00"/>
<rect x="463.0" y="61.7" width="15.3" height="8.6" fill="#08fc08"/>
<rect x="463.0" y="70.0" width="15.3" height="6.3" fill="#00ff80"/>
<rect x="463.0" y="76.0" width="15.3" height="4.3" fill="#00ffc4"/>
<rect x="463.0" y="80.0" width="15.3" height="5.3" fill="#00f8ff"/>
<rect x="463.0" y="85.0" width="15.3" height="4.8" fill="#00a8ff"/>
<rect x="463.0" y="89.5" width="15.3" height="4.8" fill="#0078ff"/>
<rect x="463.0" y="94.0" width="15.3" height="4.3" fill="#083cfa"/>
<rect x="463.0" y="98.0" width="15.3" height="62.3" fill="#0a0af8"/>
<rect x="478.0" y="38.7" width="12.3" height="12.6" fill="#fc0404"/>
<rect x="478.0" y="51.0" width="12.3" height="3.3" fill="#ff8000"/>
<rect x="478.0" y="54.0" width="12.3" height="3.3" fill="#f8fa00"/>
<rect x="478.0" y="57.0" width="12.3" height="4.3" fill="#b4ff00"/>
<rect x="478.0" y="61.0" width="12.3" height="9.3" fill="#08fc08"/>
<rect x="478.0" y="70.0" width="12.3" height="6.3" fill="#00ff80"/>
<rect x="478.0" y="76.0" width="12.3" height="4.3" fill="#00ffc4"/>
<rect x="478.0" y="80.0" width="12.3" height="6.3" fill="#00f8ff"/>
<rect x="478.0" y="86.0" width="12.3" height="4.3" fill="#00a8ff"/>
<rect x="478.0" y="90.0" width="12.3" height="5.3" fill="#0078ff"/>
<rect x="478.0" y="95.0" width="12.3" height="4.3" fill="#083cfa"/>
<rect x="478.0" y="99.0" width="12.3" height="61.3" fill="#0a0af8"/>
<rect x="490.0" y="38.7" width="12.3" height="12.6" fill="#fc0404"/>
<rect x="490.0" y="51.0" width="12.3" height="3.3" fill="#ff8000"/>
<rect x="490.0" y="54.0" width="12.3" height="3.3" fill="#f8fa00"/>
<rect x="490.0" y="57.0" width="12.3" height="4.3" fill="#b4ff00"/>
<rect x="490.0" y="61.0" width="12.3" height="9.3" fill="#08fc08"/>
<rect x="490.0" y="70.0" width="12.3" height="6.3" fill="#00ff80"/>
<rect x="490.0" y="76.0" width="12.3" height="4.3" fill="#00ffc4"/>
<rect x="490.0" y="80.0" width="12.3" height="6.3" fill="#00f8ff"/>
<rect x="490.0" y="86.0" width="12.3" height="4.3" fill="#00a8ff"/>
<rect x="490.0" y="90.0" width="12.3" height="5.3" fill="#0078ff"/>
<rect x="490.0" y="95.0" width="12.3" height="4.3" fill="#083cfa"/>
<rect x="490.0" y="99.0" width="12.3" height="61.3" fill="#0a0af8"/>
<rect x="502.0" y="38.7" width="13.3" height="12.6" fill="#fc0404"/>
<rect x="502.0" y="51.0" width="13.3" height="3.3" fill="#ff8000"/>
<rect x="502.0" y="54.0" width="13.3" height="3.3" fill="#f8fa00"/>
<rect x="502.0" y="57.0" width="13.3" height="4.3" fill="#b4ff00"/>
<rect x="502.0" y="61.0" width="13.3" height="9.3" fill="#08fc08"/>
<rect x="502.0" y="70.0" width="13.3" height="6.3" fill="#00ff80"/>
<rect x="502.0" y="76.0" width="13.3" height="4.3" fill="#00ffc4"/>
<rect x="502.0" y="80.0" width="13.3" height="6.3" fill="#00f8ff"/>
<rect x="502.0" y="86.0" width="13.3" height="4.3" fill="#00a8ff"/>
<rect x="502.0" y="90.0" width="13.3" height="5.3" fill="#0078ff"/>
<rect x="502.0" y="95.0" width="13.3" height="4.3" fill="#083cfa"/>
<rect x="502.0" y="99.0" width="13.3" height="61.3" fill="#0a0af8"/>
<rect x="515.0" y="38.7" width="11.3" height="11.8" fill="#ff4200"/>
<rect x="515.0" y="50.2" width="11.3" height="3.1" fill="#f8fa00"/>
<rect x="515.0" y="53.0" width="11.3" height="4.3" fill="#b4ff00"/>
<rect x="515.0" y="57.0" width="11.3" height="13.3" fill="#08fc08"/>
<rect x="515.0" y="70.0" width="11.3" height="6.3" fill="#00ff80"/>
<rect x="515.0" y="76.0" width="11.3" height="4.3" fill="#00ffc4"/>
<rect x="515.0" y="80.0" width="11.3" height="6.3" fill="#00f8ff"/>
<rect x="515.0" y="86.0" width="11.3" height="4.3" fill="#00a8ff"/>
<rect x="515.0" y="90.0" width="11.3" height="5.3" fill="#0078ff"/>
<rect x="515.0" y="95.0" width="11.3" height="4.3" fill="#083cfa"/>
<rect x="515.0" y="99.0" width="11.3" height="61.3" fill="#0a0af8"/>
<rect x="526.0" y="38.7" width="11.8" height="11.8" fill="#ffc000"/>
<rect x="526.0" y="50.2" width="11.8" height="3.1" fill="#b4ff00"/>
<rect x="526.0" y="53.0" width="11.8" height="17.3" fill="#08fc08"/>
<rect x="526.0" y="70.0" width="11.8" height="6.3" fill="#00ff80"/>
<rect x="526.0" y="76.0" width="11.8" height="4.3" fill="#00ffc4"/>
<rect x="526.0" y="80.0" width="11.8" height="6.3" fill="#00f8ff"/>
<rect x="526.0" y="86.0" width="11.8" height="4.3" fill="#00a8ff"/>
<rect x="526.0" y="90.0" width="11.8" height="5.3" fill="#0078ff"/>
<rect x="526.0" y="95.0" width="11.8" height="4.3" fill="#083cfa"/>
<rect x="526.0" y="99.0" width="11.8" height="61.3" fill="#0a0af8"/><rect x="450.0" y="98.0" width="40.0" height="12.0" fill="#0824f8"/><rect x="490.0" y="98.0" width="47.5" height="22.0" fill="#0a30f8"/></g>
<g id="bot" filter="url(#soft)" shape-rendering="crispEdges"><rect x="60.0" y="255.0" width="13.3" height="4.3" fill="#b4ff00"/>
<rect x="60.0" y="259.0" width="13.3" height="11.3" fill="#74ff00"/>
<rect x="60.0" y="270.0" width="13.3" height="6.3" fill="#08fc08"/>
<rect x="60.0" y="276.0" width="13.3" height="22.3" fill="#74ff00"/>
<rect x="60.0" y="298.0" width="13.3" height="12.3" fill="#08fc08"/>
<rect x="60.0" y="310.0" width="13.3" height="6.3" fill="#00ff80"/>
<rect x="60.0" y="316.0" width="13.3" height="11.3" fill="#00f8ff"/>
<rect x="60.0" y="327.0" width="13.3" height="6.3" fill="#00d0ff"/>
<rect x="60.0" y="333.0" width="13.3" height="12.3" fill="#00a8ff"/>
<rect x="60.0" y="345.0" width="13.3" height="28.3" fill="#0078ff"/>
<rect x="60.0" y="373.0" width="13.3" height="18.3" fill="#0058ff"/>
<rect x="60.0" y="391.0" width="13.3" height="15.3" fill="#0078ff"/>
<rect x="73.0" y="256.0" width="12.3" height="17.3" fill="#08fc08"/>
<rect x="73.0" y="273.0" width="12.3" height="7.3" fill="#b4ff00"/>
<rect x="73.0" y="280.0" width="12.3" height="11.3" fill="#f8fa00"/>
<rect x="73.0" y="291.0" width="12.3" height="7.3" fill="#b4ff00"/>
<rect x="73.0" y="298.0" width="12.3" height="12.3" fill="#08fc08"/>
<rect x="73.0" y="310.0" width="12.3" height="6.3" fill="#00ff80"/>
<rect x="73.0" y="316.0" width="12.3" height="11.3" fill="#00f8ff"/>
<rect x="73.0" y="327.0" width="12.3" height="6.3" fill="#00d0ff"/>
<rect x="73.0" y="333.0" width="12.3" height="12.3" fill="#00a8ff"/>
<rect x="73.0" y="345.0" width="12.3" height="16.3" fill="#0078ff"/>
<rect x="73.0" y="361.0" width="12.3" height="30.3" fill="#0058ff"/>
<rect x="73.0" y="391.0" width="12.3" height="15.3" fill="#0078ff"/>
<rect x="85.0" y="258.0" width="13.3" height="18.3" fill="#08fc08"/>
<rect x="85.0" y="276.0" width="13.3" height="18.3" fill="#b4ff00"/>
<rect x="85.0" y="294.0" width="13.3" height="16.3" fill="#08fc08"/>
<rect x="85.0" y="310.0" width="13.3" height="8.3" fill="#00ff80"/>
<rect x="85.0" y="318.0" width="13.3" height="10.3" fill="#00f8ff"/>
<rect x="85.0" y="328.0" width="13.3" height="7.3" fill="#00d0ff"/>
<rect x="85.0" y="335.0" width="13.3" height="26.3" fill="#0090ff"/>
<rect x="85.0" y="361.0" width="13.3" height="14.3" fill="#0078ff"/>
<rect x="85.0" y="375.0" width="13.3" height="16.3" fill="#0058ff"/>
<rect x="85.0" y="391.0" width="13.3" height="15.3" fill="#0090ff"/>
<rect x="98.0" y="262.0" width="13.3" height="44.3" fill="#08fc08"/>
<rect x="98.0" y="306.0" width="13.3" height="10.3" fill="#00ff80"/>
<rect x="98.0" y="316.0" width="13.3" height="10.3" fill="#00f8ff"/>
<rect x="98.0" y="326.0" width="13.3" height="9.3" fill="#00d0ff"/>
<rect x="98.0" y="335.0" width="13.3" height="16.3" fill="#0090ff"/>
<rect x="98.0" y="351.0" width="13.3" height="40.3" fill="#0078ff"/>
<rect x="98.0" y="391.0" width="13.3" height="15.3" fill="#00a8ff"/>
<rect x="111.0" y="263.0" width="13.3" height="27.3" fill="#74ff00"/>
<rect x="111.0" y="290.0" width="13.3" height="18.3" fill="#08fc08"/>
<rect x="111.0" y="308.0" width="13.3" height="6.3" fill="#00ff80"/>
<rect x="111.0" y="314.0" width="13.3" height="10.3" fill="#00f8ff"/>
<rect x="111.0" y="324.0" width="13.3" height="13.3" fill="#00d0ff"/>
<rect x="111.0" y="337.0" width="13.3" height="38.3" fill="#0078ff"/>
<rect x="111.0" y="375.0" width="13.3" height="18.3" fill="#0090ff"/>
<rect x="111.0" y="393.0" width="13.3" height="13.3" fill="#00a8ff"/>
<rect x="124.0" y="264.0" width="13.3" height="36.3" fill="#08fc08"/>
<rect x="124.0" y="300.0" width="13.3" height="10.3" fill="#00ff80"/>
<rect x="124.0" y="310.0" width="13.3" height="12.3" fill="#00f8ff"/>
<rect x="124.0" y="322.0" width="13.3" height="15.3" fill="#00d0ff"/>
<rect x="124.0" y="337.0" width="13.3" height="48.3" fill="#00a8ff"/>
<rect x="124.0" y="385.0" width="13.3" height="21.3" fill="#00d0ff"/>
<rect x="137.0" y="264.0" width="13.3" height="36.3" fill="#08fc08"/>
<rect x="137.0" y="300.0" width="13.3" height="12.3" fill="#00ff80"/>
<rect x="137.0" y="312.0" width="13.3" height="10.3" fill="#00f8ff"/>
<rect x="137.0" y="322.0" width="13.3" height="78.3" fill="#00d0ff"/>
<rect x="137.0" y="400.0" width="13.3" height="6.3" fill="#00a8ff"/>
<rect x="150.0" y="264.4" width="12.3" height="3.9" fill="#b4ff00"/>
<rect x="150.0" y="268.0" width="12.3" height="42.3" fill="#08fc08"/>
<rect x="150.0" y="310.0" width="12.3" height="8.3" fill="#00ff80"/>
<rect x="150.0" y="318.0" width="12.3" height="6.3" fill="#00ffc4"/>
<rect x="150.0" y="324.0" width="12.3" height="71.3" fill="#00f8ff"/>
<rect x="150.0" y="395.0" width="12.3" height="11.3" fill="#00ffc4"/>
<rect x="162.0" y="264.4" width="13.3" height="3.9" fill="#b4ff00"/>
<rect x="162.0" y="268.0" width="13.3" height="32.3" fill="#08fc08"/>
<rect x="162.0" y="300.0" width="13.3" height="106.3" fill="#00ff80"/>
<rect x="175.0" y="265.7" width="12.3" height="5.1" fill="#ffc000"/>
<rect x="175.0" y="270.5" width="12.3" height="5.8" fill="#b4ff00"/>
<rect x="175.0" y="276.0" width="12.3" height="24.3" fill="#08fc08"/>
<rect x="175.0" y="300.0" width="12.3" height="106.3" fill="#00ff80"/>
<rect x="187.0" y="265.7" width="11.3" height="5.1" fill="#ffc000"/>
<rect x="187.0" y="270.5" width="11.3" height="5.8" fill="#b4ff00"/>
<rect x="187.0" y="276.0" width="11.3" height="9.3" fill="#74ff00"/>
<rect x="187.0" y="285.0" width="11.3" height="121.3" fill="#08fc08"/>
<rect x="198.0" y="266.5" width="14.3" height="5.8" fill="#fc0404"/>
<rect x="198.0" y="272.0" width="14.3" height="4.3" fill="#ffc000"/>
<rect x="198.0" y="276.0" width="14.3" height="9.3" fill="#74ff00"/>
<rect x="198.0" y="285.0" width="14.3" height="121.3" fill="#08fc08"/>
<rect x="212.0" y="266.5" width="13.3" height="5.8" fill="#fc0404"/>
<rect x="212.0" y="272.0" width="13.3" height="4.3" fill="#ffc000"/>
<rect x="212.0" y="276.0" width="13.3" height="9.3" fill="#74ff00"/>
<rect x="212.0" y="285.0" width="13.3" height="121.3" fill="#08fc08"/>
<rect x="225.0" y="267.2" width="12.3" height="4.1" fill="#ff4200"/>
<rect x="225.0" y="271.0" width="12.3" height="3.3" fill="#ff8000"/>
<rect x="225.0" y="274.0" width="12.3" height="26.3" fill="#08fc08"/>
<rect x="225.0" y="300.0" width="12.3" height="106.3" fill="#00ff80"/>
<rect x="237.0" y="267.2" width="13.3" height="4.1" fill="#ff4200"/>
<rect x="237.0" y="271.0" width="13.3" height="2.3" fill="#ff8000"/>
<rect x="237.0" y="273.0" width="13.3" height="27.3" fill="#08fc08"/>
<rect x="237.0" y="300.0" width="13.3" height="20.3" fill="#00ff80"/>
<rect x="237.0" y="320.0" width="13.3" height="86.3" fill="#00ffc4"/>
<rect x="250.0" y="267.2" width="12.3" height="6.1" fill="#ff8000"/>
<rect x="250.0" y="273.0" width="12.3" height="7.3" fill="#b4ff00"/>
<rect x="250.0" y="280.0" width="12.3" height="20.3" fill="#08fc08"/>
<rect x="250.0" y="300.0" width="12.3" height="20.3" fill="#00ff80"/>
<rect x="250.0" y="320.0" width="12.3" height="86.3" fill="#00ffc4"/>
<rect x="262.0" y="267.2" width="8.3" height="13.1" fill="#ff8000"/>
<rect x="262.0" y="280.0" width="8.3" height="3.3" fill="#f8fa00"/>
<rect x="262.0" y="283.0" width="8.3" height="17.3" fill="#08fc08"/>
<rect x="262.0" y="300.0" width="8.3" height="10.3" fill="#00ff80"/>
<rect x="262.0" y="310.0" width="8.3" height="20.3" fill="#00ffc4"/>
<rect x="262.0" y="330.0" width="8.3" height="60.3" fill="#00f8ff"/>
<rect x="262.0" y="390.0" width="8.3" height="16.3" fill="#00a8ff"/>
<rect x="270.0" y="267.2" width="6.3" height="7.1" fill="#ff8000"/>
<rect x="270.0" y="274.0" width="6.3" height="3.3" fill="#f8fa00"/>
<rect x="270.0" y="277.0" width="6.3" height="3.3" fill="#b4ff00"/>
<rect x="270.0" y="280.0" width="6.3" height="20.3" fill="#08fc08"/>
<rect x="270.0" y="300.0" width="6.3" height="20.3" fill="#00ff80"/>
<rect x="270.0" y="320.0" width="6.3" height="25.3" fill="#00ffc4"/>
<rect x="270.0" y="345.0" width="6.3" height="40.3" fill="#00f8ff"/>
<rect x="270.0" y="385.0" width="6.3" height="21.3" fill="#00a8ff"/>
<rect x="276.0" y="267.3" width="14.3" height="13.0" fill="#fc0404"/>
<rect x="276.0" y="280.0" width="14.3" height="3.3" fill="#f8fa00"/>
<rect x="276.0" y="283.0" width="14.3" height="4.3" fill="#b4ff00"/>
<rect x="276.0" y="287.0" width="14.3" height="16.3" fill="#08fc08"/>
<rect x="276.0" y="303.0" width="14.3" height="14.3" fill="#00ff80"/>
<rect x="276.0" y="317.0" width="14.3" height="23.3" fill="#00f8ff"/>
<rect x="276.0" y="340.0" width="14.3" height="25.3" fill="#00d0ff"/>
<rect x="276.0" y="365.0" width="14.3" height="20.3" fill="#00a8ff"/>
<rect x="276.0" y="385.0" width="14.3" height="21.3" fill="#0090ff"/>
<rect x="290.0" y="267.3" width="13.3" height="13.0" fill="#fc0404"/>
<rect x="290.0" y="280.0" width="13.3" height="3.3" fill="#f8fa00"/>
<rect x="290.0" y="283.0" width="13.3" height="4.3" fill="#b4ff00"/>
<rect x="290.0" y="287.0" width="13.3" height="16.3" fill="#08fc08"/>
<rect x="290.0" y="303.0" width="13.3" height="14.3" fill="#00ff80"/>
<rect x="290.0" y="317.0" width="13.3" height="18.3" fill="#00f8ff"/>
<rect x="290.0" y="335.0" width="13.3" height="30.3" fill="#00d0ff"/>
<rect x="290.0" y="365.0" width="13.3" height="20.3" fill="#00a8ff"/>
<rect x="290.0" y="385.0" width="13.3" height="21.3" fill="#0090ff"/>
<rect x="303.0" y="267.3" width="12.3" height="13.0" fill="#ff4200"/>
<rect x="303.0" y="280.0" width="12.3" height="3.3" fill="#f8fa00"/>
<rect x="303.0" y="283.0" width="12.3" height="4.3" fill="#b4ff00"/>
<rect x="303.0" y="287.0" width="12.3" height="16.3" fill="#08fc08"/>
<rect x="303.0" y="303.0" width="12.3" height="15.3" fill="#00ff80"/>
<rect x="303.0" y="318.0" width="12.3" height="12.3" fill="#00f8ff"/>
<rect x="303.0" y="330.0" width="12.3" height="10.3" fill="#00d0ff"/>
<rect x="303.0" y="340.0" width="12.3" height="15.3" fill="#00a8ff"/>
<rect x="303.0" y="355.0" width="12.3" height="20.3" fill="#0090ff"/>
<rect x="303.0" y="375.0" width="12.3" height="31.3" fill="#0078ff"/>
<rect x="315.0" y="267.3" width="15.3" height="8.0" fill="#ff8000"/>
<rect x="315.0" y="275.0" width="15.3" height="5.3" fill="#ff4200"/>
<rect x="315.0" y="280.0" width="15.3" height="4.3" fill="#f8fa00"/>
<rect x="315.0" y="284.0" width="15.3" height="4.3" fill="#b4ff00"/>
<rect x="315.0" y="288.0" width="15.3" height="15.3" fill="#08fc08"/>
<rect x="315.0" y="303.0" width="15.3" height="11.3" fill="#00ff80"/>
<rect x="315.0" y="314.0" width="15.3" height="8.3" fill="#00f8ff"/>
<rect x="315.0" y="322.0" width="15.3" height="8.3" fill="#00d0ff"/>
<rect x="315.0" y="330.0" width="15.3" height="5.3" fill="#00a8ff"/>
<rect x="315.0" y="335.0" width="15.3" height="15.3" fill="#0078ff"/>
<rect x="315.0" y="350.0" width="15.3" height="15.3" fill="#0058ff"/>
<rect x="315.0" y="365.0" width="15.3" height="15.3" fill="#083cfa"/>
<rect x="315.0" y="380.0" width="15.3" height="26.3" fill="#0a2cf8"/>
<rect x="330.0" y="267.3" width="15.3" height="13.0" fill="#ff4200"/>
<rect x="330.0" y="280.0" width="15.3" height="4.3" fill="#f8fa00"/>
<rect x="330.0" y="284.0" width="15.3" height="4.3" fill="#b4ff00"/>
<rect x="330.0" y="288.0" width="15.3" height="15.3" fill="#08fc08"/>
<rect x="330.0" y="303.0" width="15.3" height="11.3" fill="#00ff80"/>
<rect x="330.0" y="314.0" width="15.3" height="8.3" fill="#00f8ff"/>
<rect x="330.0" y="322.0" width="15.3" height="8.3" fill="#00d0ff"/>
<rect x="330.0" y="330.0" width="15.3" height="5.3" fill="#00a8ff"/>
<rect x="330.0" y="335.0" width="15.3" height="15.3" fill="#0078ff"/>
<rect x="330.0" y="350.0" width="15.3" height="15.3" fill="#0058ff"/>
<rect x="330.0" y="365.0" width="15.3" height="15.3" fill="#083cfa"/>
<rect x="330.0" y="380.0" width="15.3" height="26.3" fill="#0a2cf8"/>
<rect x="345.0" y="267.3" width="15.3" height="15.0" fill="#fc0404"/>
<rect x="345.0" y="282.0" width="15.3" height="3.3" fill="#f8fa00"/>
<rect x="345.0" y="285.0" width="15.3" height="4.3" fill="#b4ff00"/>
<rect x="345.0" y="289.0" width="15.3" height="14.3" fill="#08fc08"/>
<rect x="345.0" y="303.0" width="15.3" height="13.3" fill="#00ff80"/>
<rect x="345.0" y="316.0" width="15.3" height="6.3" fill="#00f8ff"/>
<rect x="345.0" y="322.0" width="15.3" height="6.3" fill="#00d0ff"/>
<rect x="345.0" y="328.0" width="15.3" height="7.3" fill="#00a8ff"/>
<rect x="345.0" y="335.0" width="15.3" height="15.3" fill="#0058ff"/>
<rect x="345.0" y="350.0" width="15.3" height="20.3" fill="#083cfa"/>
<rect x="345.0" y="370.0" width="15.3" height="36.3" fill="#0a16f8"/>
<rect x="360.0" y="267.3" width="12.3" height="13.0" fill="#fc0404"/>
<rect x="360.0" y="280.0" width="12.3" height="3.9" fill="#ff8000"/>
<rect x="360.0" y="283.6" width="12.3" height="3.7" fill="#f8fa00"/>
<rect x="360.0" y="287.0" width="12.3" height="5.3" fill="#b4ff00"/>
<rect x="360.0" y="292.0" width="12.3" height="13.8" fill="#08fc08"/>
<rect x="360.0" y="305.5" width="12.3" height="6.8" fill="#00ff80"/>
<rect x="360.0" y="312.0" width="12.3" height="5.8" fill="#00ffc4"/>
<rect x="360.0" y="317.5" width="12.3" height="9.8" fill="#00f8ff"/>
<rect x="360.0" y="327.0" width="12.3" height="5.3" fill="#00d0ff"/>
<rect x="360.0" y="332.0" width="12.3" height="5.3" fill="#00a8ff"/>
<rect x="360.0" y="337.0" width="12.3" height="11.3" fill="#0078ff"/>
<rect x="360.0" y="348.0" width="12.3" height="10.3" fill="#0058ff"/>
<rect x="360.0" y="358.0" width="12.3" height="15.3" fill="#083cfa"/>
<rect x="360.0" y="373.0" width="12.3" height="33.3" fill="#0a16f8"/>
<rect x="372.0" y="267.3" width="12.3" height="13.0" fill="#fc0404"/>
<rect x="372.0" y="280.0" width="12.3" height="3.9" fill="#ff8000"/>
<rect x="372.0" y="283.6" width="12.3" height="3.7" fill="#f8fa00"/>
<rect x="372.0" y="287.0" width="12.3" height="5.3" fill="#b4ff00"/>
<rect x="372.0" y="292.0" width="12.3" height="13.8" fill="#08fc08"/>
<rect x="372.0" y="305.5" width="12.3" height="6.8" fill="#00ff80"/>
<rect x="372.0" y="312.0" width="12.3" height="5.8" fill="#00ffc4"/>
<rect x="372.0" y="317.5" width="12.3" height="9.8" fill="#00f8ff"/>
<rect x="372.0" y="327.0" width="12.3" height="5.3" fill="#00d0ff"/>
<rect x="372.0" y="332.0" width="12.3" height="5.3" fill="#00a8ff"/>
<rect x="372.0" y="337.0" width="12.3" height="11.3" fill="#0078ff"/>
<rect x="372.0" y="348.0" width="12.3" height="10.3" fill="#0058ff"/>
<rect x="372.0" y="358.0" width="12.3" height="15.3" fill="#083cfa"/>
<rect x="372.0" y="373.0" width="12.3" height="33.3" fill="#0a16f8"/>
<rect x="384.0" y="267.3" width="12.3" height="13.0" fill="#fc0404"/>
<rect x="384.0" y="280.0" width="12.3" height="3.9" fill="#ff8000"/>
<rect x="384.0" y="283.6" width="12.3" height="3.7" fill="#f8fa00"/>
<rect x="384.0" y="287.0" width="12.3" height="5.3" fill="#b4ff00"/>
<rect x="384.0" y="292.0" width="12.3" height="13.8" fill="#08fc08"/>
<rect x="384.0" y="305.5" width="12.3" height="6.8" fill="#00ff80"/>
<rect x="384.0" y="312.0" width="12.3" height="5.8" fill="#00ffc4"/>
<rect x="384.0" y="317.5" width="12.3" height="9.8" fill="#00f8ff"/>
<rect x="384.0" y="327.0" width="12.3" height="5.3" fill="#00d0ff"/>
<rect x="384.0" y="332.0" width="12.3" height="5.3" fill="#00a8ff"/>
<rect x="384.0" y="337.0" width="12.3" height="11.3" fill="#0078ff"/>
<rect x="384.0" y="348.0" width="12.3" height="10.3" fill="#0058ff"/>
<rect x="384.0" y="358.0" width="12.3" height="15.3" fill="#083cfa"/>
<rect x="384.0" y="373.0" width="12.3" height="33.3" fill="#0a16f8"/>
<rect x="396.0" y="267.3" width="12.3" height="13.0" fill="#fc0404"/>
<rect x="396.0" y="280.0" width="12.3" height="3.9" fill="#ff8000"/>
<rect x="396.0" y="283.6" width="12.3" height="3.7" fill="#f8fa00"/>
<rect x="396.0" y="287.0" width="12.3" height="5.3" fill="#b4ff00"/>
<rect x="396.0" y="292.0" width="12.3" height="13.8" fill="#08fc08"/>
<rect x="396.0" y="305.5" width="12.3" height="6.8" fill="#00ff80"/>
<rect x="396.0" y="312.0" width="12.3" height="5.8" fill="#00ffc4"/>
<rect x="396.0" y="317.5" width="12.3" height="9.8" fill="#00f8ff"/>
<rect x="396.0" y="327.0" width="12.3" height="5.3" fill="#00d0ff"/>
<rect x="396.0" y="332.0" width="12.3" height="5.3" fill="#00a8ff"/>
<rect x="396.0" y="337.0" width="12.3" height="11.3" fill="#0078ff"/>
<rect x="396.0" y="348.0" width="12.3" height="10.3" fill="#0058ff"/>
<rect x="396.0" y="358.0" width="12.3" height="15.3" fill="#083cfa"/>
<rect x="396.0" y="373.0" width="12.3" height="33.3" fill="#0a16f8"/>
<rect x="408.0" y="267.3" width="12.3" height="13.0" fill="#fc0404"/>
<rect x="408.0" y="280.0" width="12.3" height="3.9" fill="#ff8000"/>
<rect x="408.0" y="283.6" width="12.3" height="3.7" fill="#f8fa00"/>
<rect x="408.0" y="287.0" width="12.3" height="5.3" fill="#b4ff00"/>
<rect x="408.0" y="292.0" width="12.3" height="13.8" fill="#08fc08"/>
<rect x="408.0" y="305.5" width="12.3" height="6.8" fill="#00ff80"/>
<rect x="408.0" y="312.0" width="12.3" height="5.8" fill="#00ffc4"/>
<rect x="408.0" y="317.5" width="12.3" height="9.8" fill="#00f8ff"/>
<rect x="408.0" y="327.0" width="12.3" height="5.3" fill="#00d0ff"/>
<rect x="408.0" y="332.0" width="12.3" height="5.3" fill="#00a8ff"/>
<rect x="408.0" y="337.0" width="12.3" height="11.3" fill="#0078ff"/>
<rect x="408.0" y="348.0" width="12.3" height="10.3" fill="#0058ff"/>
<rect x="408.0" y="358.0" width="12.3" height="15.3" fill="#083cfa"/>
<rect x="408.0" y="373.0" width="12.3" height="33.3" fill="#0a16f8"/>
<rect x="420.0" y="267.3" width="10.3" height="13.0" fill="#fc0404"/>
<rect x="420.0" y="280.0" width="10.3" height="3.9" fill="#ff8000"/>
<rect x="420.0" y="283.6" width="10.3" height="3.7" fill="#f8fa00"/>
<rect x="420.0" y="287.0" width="10.3" height="5.3" fill="#b4ff00"/>
<rect x="420.0" y="292.0" width="10.3" height="13.8" fill="#08fc08"/>
<rect x="420.0" y="305.5" width="10.3" height="6.8" fill="#00ff80"/>
<rect x="420.0" y="312.0" width="10.3" height="5.8" fill="#00ffc4"/>
<rect x="420.0" y="317.5" width="10.3" height="9.8" fill="#00f8ff"/>
<rect x="420.0" y="327.0" width="10.3" height="5.3" fill="#00d0ff"/>
<rect x="420.0" y="332.0" width="10.3" height="5.3" fill="#00a8ff"/>
<rect x="420.0" y="337.0" width="10.3" height="11.3" fill="#0078ff"/>
<rect x="420.0" y="348.0" width="10.3" height="10.3" fill="#0058ff"/>
<rect x="420.0" y="358.0" width="10.3" height="15.3" fill="#083cfa"/>
<rect x="420.0" y="373.0" width="10.3" height="33.3" fill="#0a16f8"/>
<rect x="430.0" y="267.3" width="13.3" height="4.0" fill="#ff4200"/>
<rect x="430.0" y="271.0" width="13.3" height="10.3" fill="#fc0404"/>
<rect x="430.0" y="281.0" width="13.3" height="3.8" fill="#ff8000"/>
<rect x="430.0" y="284.5" width="13.3" height="3.8" fill="#f8fa00"/>
<rect x="430.0" y="288.0" width="13.3" height="5.3" fill="#b4ff00"/>
<rect x="430.0" y="293.0" width="13.3" height="12.8" fill="#08fc08"/>
<rect x="430.0" y="305.5" width="13.3" height="6.8" fill="#00ff80"/>
<rect x="430.0" y="312.0" width="13.3" height="5.8" fill="#00ffc4"/>
<rect x="430.0" y="317.5" width="13.3" height="9.8" fill="#00f8ff"/>
<rect x="430.0" y="327.0" width="13.3" height="5.3" fill="#00d0ff"/>
<rect x="430.0" y="332.0" width="13.3" height="5.3" fill="#00a8ff"/>
<rect x="430.0" y="337.0" width="13.3" height="11.3" fill="#0078ff"/>
<rect x="430.0" y="348.0" width="13.3" height="10.3" fill="#0058ff"/>
<rect x="430.0" y="358.0" width="13.3" height="15.3" fill="#083cfa"/>
<rect x="430.0" y="373.0" width="13.3" height="33.3" fill="#0a16f8"/>
<rect x="443.0" y="267.3" width="13.3" height="4.0" fill="#ff4200"/>
<rect x="443.0" y="271.0" width="13.3" height="10.3" fill="#fc0404"/>
<rect x="443.0" y="281.0" width="13.3" height="3.8" fill="#ff8000"/>
<rect x="443.0" y="284.5" width="13.3" height="3.8" fill="#f8fa00"/>
<rect x="443.0" y="288.0" width="13.3" height="5.3" fill="#b4ff00"/>
<rect x="443.0" y="293.0" width="13.3" height="12.8" fill="#08fc08"/>
<rect x="443.0" y="305.5" width="13.3" height="6.8" fill="#00ff80"/>
<rect x="443.0" y="312.0" width="13.3" height="5.8" fill="#00ffc4"/>
<rect x="443.0" y="317.5" width="13.3" height="9.8" fill="#00f8ff"/>
<rect x="443.0" y="327.0" width="13.3" height="5.3" fill="#00d0ff"/>
<rect x="443.0" y="332.0" width="13.3" height="5.3" fill="#00a8ff"/>
<rect x="443.0" y="337.0" width="13.3" height="11.3" fill="#0078ff"/>
<rect x="443.0" y="348.0" width="13.3" height="10.3" fill="#0058ff"/>
<rect x="443.0" y="358.0" width="13.3" height="15.3" fill="#083cfa"/>
<rect x="443.0" y="373.0" width="13.3" height="33.3" fill="#0a16f8"/>
<rect x="456.0" y="267.3" width="14.3" height="4.0" fill="#ff4200"/>
<rect x="456.0" y="271.0" width="14.3" height="10.3" fill="#fc0404"/>
<rect x="456.0" y="281.0" width="14.3" height="3.8" fill="#ff8000"/>
<rect x="456.0" y="284.5" width="14.3" height="3.8" fill="#f8fa00"/>
<rect x="456.0" y="288.0" width="14.3" height="5.3" fill="#b4ff00"/>
<rect x="456.0" y="293.0" width="14.3" height="12.8" fill="#08fc08"/>
<rect x="456.0" y="305.5" width="14.3" height="6.8" fill="#00ff80"/>
<rect x="456.0" y="312.0" width="14.3" height="5.8" fill="#00ffc4"/>
<rect x="456.0" y="317.5" width="14.3" height="9.8" fill="#00f8ff"/>
<rect x="456.0" y="327.0" width="14.3" height="5.3" fill="#00d0ff"/>
<rect x="456.0" y="332.0" width="14.3" height="5.3" fill="#00a8ff"/>
<rect x="456.0" y="337.0" width="14.3" height="11.3" fill="#0078ff"/>
<rect x="456.0" y="348.0" width="14.3" height="10.3" fill="#0058ff"/>
<rect x="456.0" y="358.0" width="14.3" height="15.3" fill="#083cfa"/>
<rect x="456.0" y="373.0" width="14.3" height="33.3" fill="#0a16f8"/>
<rect x="470.0" y="267.3" width="22.7" height="22.0" fill="#fc0404"/>
<rect x="470.0" y="289.0" width="22.7" height="2.8" fill="#ff8000"/>
<rect x="470.0" y="291.5" width="22.7" height="2.3" fill="#f8fa00"/>
<rect x="470.0" y="293.5" width="22.7" height="3.8" fill="#b4ff00"/>
<rect x="470.0" y="297.0" width="22.7" height="9.3" fill="#08fc08"/>
<rect x="470.0" y="306.0" width="22.7" height="6.3" fill="#00ff80"/>
<rect x="470.0" y="312.0" width="22.7" height="5.8" fill="#00ffc4"/>
<rect x="470.0" y="317.5" width="22.7" height="9.8" fill="#00f8ff"/>
<rect x="470.0" y="327.0" width="22.7" height="5.3" fill="#00d0ff"/>
<rect x="470.0" y="332.0" width="22.7" height="5.3" fill="#00a8ff"/>
<rect x="470.0" y="337.0" width="22.7" height="11.3" fill="#0078ff"/>
<rect x="470.0" y="348.0" width="22.7" height="10.3" fill="#0058ff"/>
<rect x="470.0" y="358.0" width="22.7" height="15.3" fill="#083cfa"/>
<rect x="470.0" y="373.0" width="22.7" height="33.3" fill="#0a16f8"/></g>
<g stroke="#ffffff" stroke-opacity="0.52" stroke-width="1" stroke-dasharray="9.6 3.3" fill="none"><line x1="41.3" y1="53.5" x2="537.5" y2="53.5"/><line x1="41.3" y1="67.5" x2="537.5" y2="67.5"/><line x1="41.3" y1="81.5" x2="537.5" y2="81.5"/><line x1="41.3" y1="95.5" x2="537.5" y2="95.5"/><line x1="41.3" y1="110.5" x2="537.5" y2="110.5"/><line x1="41.3" y1="124.5" x2="537.5" y2="124.5"/><line x1="41.3" y1="138.5" x2="537.5" y2="138.5"/><line x1="41.3" y1="153.5" x2="537.5" y2="153.5"/><line x1="60.5" y1="282.5" x2="492.4" y2="282.5"/><line x1="60.5" y1="298.5" x2="492.4" y2="298.5"/><line x1="60.5" y1="315.5" x2="492.4" y2="315.5"/><line x1="60.5" y1="331.5" x2="492.4" y2="331.5"/><line x1="60.5" y1="348.5" x2="492.4" y2="348.5"/><line x1="60.5" y1="365.5" x2="492.4" y2="365.5"/><line x1="60.5" y1="381.5" x2="492.4" y2="381.5"/><line x1="60.5" y1="398.5" x2="492.4" y2="398.5"/></g>
<g stroke="#ffffff" stroke-opacity="0.42" stroke-width="1" stroke-dasharray="9.6 3.3" fill="none"><line x1="149.5" y1="20" x2="149.5" y2="160"/><line x1="257.5" y1="20" x2="257.5" y2="160"/><line x1="365.5" y1="20" x2="365.5" y2="160"/><line x1="473.5" y1="20" x2="473.5" y2="160"/><line x1="166.5" y1="240" x2="166.5" y2="406"/><line x1="270.5" y1="240" x2="270.5" y2="406"/><line x1="375.5" y1="240" x2="375.5" y2="406"/><line x1="480.5" y1="240" x2="480.5" y2="406"/></g>
<line x1="41" y1="159.8" x2="537.5" y2="159.8" stroke="#0808a8" stroke-width="0.7"/>
<line x1="60.5" y1="405.6" x2="492.4" y2="405.6" stroke="#0c1cb0" stroke-width="0.7"/>
<path d="M132.8,96.5 C137,90 144,80 156,77 C175,75.8 200,76.5 225,77.5 C240,78 250,78.2 254,80.5 C258.5,83.5 258.8,90 258.6,97 C258.4,104 256,109.5 247,112 C233,114.5 218,116 205,116 C185,115 160,111.5 148,108.5 C140,106 135,100.5 132.8,96.5 Z" fill="#dfe1e8" fill-opacity="0.85"/>
<polyline points="133.0,96.5 150.0,97.5 170.0,96.5 185.0,92.0 195.0,88.5 210.0,83.0 227.0,77.5" fill="none" stroke="#8a8a9a" stroke-width="0.8" stroke-dasharray="3 2" stroke-opacity="0.8"/>
<g fill="none" stroke="#1a1a1a" stroke-width="1.25" stroke-dasharray="3.4 2.1 1.1 2.1"><polyline points="41.0,38.9 52.0,39.0 73.0,39.0 95.0,38.6 149.0,38.5"/><polyline points="73.0,35.6 95.0,35.4 149.0,35.4"/><polyline points="41.0,49.0 50.0,50.0 62.0,51.0 73.0,52.3 84.0,51.5 94.0,51.5 105.0,50.5 148.0,49.8 165.0,47.5 180.0,47.0 197.0,47.0 202.0,46.0"/><polyline points="41.0,62.0 50.0,61.0 62.0,58.5 73.0,57.0 86.0,60.0 94.0,63.0 100.0,67.0 110.0,69.5 125.0,70.0 150.0,70.0 175.0,69.0 192.0,67.5 200.0,64.0 203.0,60.0"/><polyline points="224.0,50.0 240.0,50.5 260.0,51.5 290.0,51.8 315.0,52.5 340.0,54.5 370.0,57.0 400.0,58.5 440.0,58.5 478.0,57.8 505.0,56.5 515.0,53.5 525.0,51.5 537.0,50.5"/><polyline points="41.0,81.0 55.0,80.5 70.0,80.0 85.0,82.0 100.0,86.0 115.0,91.0 133.0,96.5"/><polyline points="227.0,78.0 240.0,72.0 255.0,67.5 290.0,67.3 305.0,68.9 315.0,70.5 330.0,72.2 345.0,75.0 370.0,79.0 400.0,82.0 434.0,85.0 480.0,87.3 537.0,88.5"/><polyline points="152.0,270.0 160.0,268.5 175.0,268.0 188.0,270.0 199.0,274.5 220.0,275.0 237.0,272.5 263.0,271.0 270.0,275.0 275.0,281.0 300.0,282.0 330.0,282.0 380.0,284.5 420.0,287.5 460.0,288.5 492.0,292.4"/><polyline points="60.0,331.4 82.0,323.0 116.0,317.0 137.6,313.3 147.3,317.0 154.5,329.0 157.0,348.0 153.3,372.0 140.0,405.0"/><polyline points="270.0,405.0 273.0,390.0 277.0,365.0 290.0,345.0 305.0,333.0 320.0,324.5 345.0,321.0 390.0,320.5 440.0,321.5 492.0,323.3"/></g>
<g stroke-width="1.1" stroke-linecap="round"><line x1="161.4" y1="35.4" x2="153.2" y2="79.8" stroke="#111111"/><line x1="197.0" y1="32.0" x2="213.5" y2="128.0" stroke="#111111"/><line x1="223.0" y1="35.4" x2="228.8" y2="71.6" stroke="#1a3aa0"/><line x1="238.6" y1="38.7" x2="243.6" y2="66.6" stroke="#3a2aa0"/><line x1="277.2" y1="38.7" x2="273.0" y2="61.0" stroke="#1a3aa0"/><line x1="318.2" y1="39.5" x2="314.0" y2="67.5" stroke="#1a3aa0"/><line x1="364.3" y1="39.5" x2="371.0" y2="78.0" stroke="#1a3aa0"/><line x1="101.0" y1="262.0" x2="110.4" y2="312.0" stroke="#1a3aa0"/><line x1="124.0" y1="265.0" x2="131.6" y2="304.0" stroke="#c0401c"/><line x1="152.4" y1="265.0" x2="147.0" y2="297.0" stroke="#c0401c"/><line x1="195.0" y1="266.0" x2="202.5" y2="305.5" stroke="#c0401c"/><line x1="249.5" y1="270.5" x2="242.5" y2="311.6" stroke="#c0401c"/><line x1="264.3" y1="268.0" x2="273.5" y2="318.5" stroke="#1a3aa0"/><line x1="307.0" y1="267.0" x2="314.7" y2="313.0" stroke="#1a3aa0"/><line x1="345.3" y1="267.0" x2="337.6" y2="306.5" stroke="#1a3aa0"/><line x1="382.4" y1="267.0" x2="390.5" y2="313.0" stroke="#1a3aa0"/></g>
<polygon points="206.6,63.0 206.6,55.6 207.9,55.6 205.3,51.4 202.7,55.6 204.0,55.6 204.0,63.0" fill="#e81c1c"/>
<polygon points="185.0,99.4 176.1,95.5 176.7,94.3 172.0,95.0 174.7,98.9 175.2,97.7 184.0,101.6" fill="#e81c1c"/>
<polygon points="234.8,97.4 242.1,91.4 243.0,92.5 244.5,88.0 239.8,88.6 240.6,89.6 233.2,95.6" fill="#e81c1c"/>
<line x1="216.3" y1="117.5" x2="218.3" y2="127.5" stroke="#e81c1c" stroke-width="2.6"/>
<circle cx="198.4" cy="28.1" r="2.9" fill="none" stroke="#d8303c" stroke-width="0.9"/><path transform="translate(198.20 18.00) scale(1.00)" d="M4.4,0.9 C3.6,-0.1 1.0,0.1 1.1,1.6 C1.2,3.1 4.3,2.9 4.2,4.6 C4.1,6.0 1.6,6.3 0.9,5.4 M1.7,6.0 L0.3,7.3" fill="none" stroke="#d8303c" stroke-width="0.90"/>
<circle cx="208.5" cy="31.5" r="2.9" fill="none" stroke="#d8303c" stroke-width="0.9"/><line x1="210.2" y1="29.2" x2="212.4" y2="25.6" stroke="#d8303c" stroke-width="0.9"/><polygon points="214.8,22.4 211.2,24.8 214.0,26.6" fill="#e01c2c"/>
<circle cx="153.0" cy="257.5" r="3.4" fill="none" stroke="#d8303c" stroke-width="1.0"/><path transform="translate(152.80 245.10) scale(1.25)" d="M4.4,0.9 C3.6,-0.1 1.0,0.1 1.1,1.6 C1.2,3.1 4.3,2.9 4.2,4.6 C4.1,6.0 1.6,6.3 0.9,5.4 M1.7,6.0 L0.3,7.3" fill="none" stroke="#d8303c" stroke-width="0.80"/>
<g font-family="Liberation Sans, sans-serif"><polygon points="53.9,32.4 58.5,32.4 56.2,35.2" fill="#8c8c8c" stroke="#6a6a6a" stroke-width="0.4"/><text x="57.0" y="31.3" transform="rotate(-52 57.0 31.3)" font-size="4.9" font-weight="bold" fill="#5a5a5a">A079</text><polygon points="114.5,29.0 119.1,29.0 116.8,31.8" fill="#8c8c8c" stroke="#6a6a6a" stroke-width="0.4"/><text x="117.6" y="27.9" transform="rotate(-52 117.6 27.9)" font-size="4.9" font-weight="bold" fill="#5a5a5a">A078</text><polygon points="134.0,30.6 138.6,30.6 136.3,33.4" fill="#8c8c8c" stroke="#6a6a6a" stroke-width="0.4"/><text x="137.1" y="29.5" transform="rotate(-52 137.1 29.5)" font-size="4.9" font-weight="bold" fill="#5a5a5a">A102</text><polygon points="164.8,31.4 169.4,31.4 167.1,34.2" fill="#8c8c8c" stroke="#6a6a6a" stroke-width="0.4"/><text x="167.9" y="30.3" transform="rotate(-52 167.9 30.3)" font-size="4.9" font-weight="bold" fill="#5a5a5a">A084</text><polygon points="189.2,30.0 193.8,30.0 191.5,32.8" fill="#8c8c8c" stroke="#6a6a6a" stroke-width="0.4"/><text x="185.2" y="30.1" transform="rotate(-52 185.2 30.1)" font-size="4.9" font-weight="bold" fill="#5a5a5a">A086</text><polygon points="217.7,34.6 222.3,34.6 220.0,37.4" fill="#8c8c8c" stroke="#6a6a6a" stroke-width="0.4"/><text x="216.5" y="33.8" transform="rotate(-52 216.5 33.8)" font-size="4.9" font-weight="bold" fill="#5a5a5a">A083</text><polygon points="249.5,36.0 254.1,36.0 251.8,38.8" fill="#8c8c8c" stroke="#6a6a6a" stroke-width="0.4"/><text x="252.6" y="34.9" transform="rotate(-52 252.6 34.9)" font-size="4.9" font-weight="bold" fill="#5a5a5a">A050</text><polygon points="276.7,36.1 281.3,36.1 279.0,38.9" fill="#8c8c8c" stroke="#6a6a6a" stroke-width="0.4"/><text x="279.8" y="35.0" transform="rotate(-52 279.8 35.0)" font-size="4.9" font-weight="bold" fill="#5a5a5a">A042</text><polygon points="306.2,36.1 310.8,36.1 308.5,38.9" fill="#8c8c8c" stroke="#6a6a6a" stroke-width="0.4"/><text x="309.3" y="35.0" transform="rotate(-52 309.3 35.0)" font-size="4.9" font-weight="bold" fill="#5a5a5a">A034</text><polygon points="334.8,36.1 339.4,36.1 337.1,38.9" fill="#8c8c8c" stroke="#6a6a6a" stroke-width="0.4"/><text x="337.9" y="35.0" transform="rotate(-52 337.9 35.0)" font-size="4.9" font-weight="bold" fill="#5a5a5a">A031</text><polygon points="392.1,35.4 396.7,35.4 394.4,38.2" fill="#8c8c8c" stroke="#6a6a6a" stroke-width="0.4"/><text x="395.2" y="34.3" transform="rotate(-52 395.2 34.3)" font-size="4.9" font-weight="bold" fill="#5a5a5a">A020</text><polygon points="449.1,35.4 453.7,35.4 451.4,38.2" fill="#8c8c8c" stroke="#6a6a6a" stroke-width="0.4"/><text x="452.2" y="34.3" transform="rotate(-52 452.2 34.3)" font-size="4.9" font-weight="bold" fill="#5a5a5a">A009</text><polygon points="523.7,35.6 528.3,35.6 526.0,38.4" fill="#8c8c8c" stroke="#6a6a6a" stroke-width="0.4"/><text x="526.8" y="34.5" transform="rotate(-52 526.8 34.5)" font-size="4.9" font-weight="bold" fill="#5a5a5a">T209</text><polygon points="74.1,254.1 80.3,254.1 77.2,257.9" fill="#8c8c8c" stroke="#6a6a6a" stroke-width="0.4"/><text x="76.7" y="252.4" transform="rotate(-54 76.7 252.4)" font-size="5.6" font-weight="bold" fill="#5a5a5a">A071</text><polygon points="140.7,259.6 146.9,259.6 143.8,263.4" fill="#8c8c8c" stroke="#6a6a6a" stroke-width="0.4"/><text x="140.3" y="257.9" transform="rotate(-54 140.3 257.9)" font-size="5.6" font-weight="bold" fill="#5a5a5a">A060</text><polygon points="205.9,262.9 212.1,262.9 209.0,266.7" fill="#8c8c8c" stroke="#6a6a6a" stroke-width="0.4"/><text x="208.5" y="261.2" transform="rotate(-54 208.5 261.2)" font-size="5.6" font-weight="bold" fill="#5a5a5a">A049</text><polygon points="274.5,263.2 280.7,263.2 277.6,267.0" fill="#8c8c8c" stroke="#6a6a6a" stroke-width="0.4"/><text x="277.1" y="261.5" transform="rotate(-54 277.1 261.5)" font-size="5.6" font-weight="bold" fill="#5a5a5a">A038</text><polygon points="341.1,263.2 347.3,263.2 344.2,267.0" fill="#8c8c8c" stroke="#6a6a6a" stroke-width="0.4"/><text x="343.7" y="261.5" transform="rotate(-54 343.7 261.5)" font-size="5.6" font-weight="bold" fill="#5a5a5a">A027</text><polygon points="407.8,263.2 414.0,263.2 410.9,267.0" fill="#8c8c8c" stroke="#6a6a6a" stroke-width="0.4"/><text x="410.4" y="261.5" transform="rotate(-54 410.4 261.5)" font-size="5.6" font-weight="bold" fill="#5a5a5a">A016</text><polygon points="474.0,263.2 480.2,263.2 477.1,267.0" fill="#8c8c8c" stroke="#6a6a6a" stroke-width="0.4"/><text x="476.6" y="261.5" transform="rotate(-54 476.6 261.5)" font-size="5.6" font-weight="bold" fill="#5a5a5a">A005</text></g>
<g font-family="Liberation Sans, sans-serif" font-size="6" fill="#2a2a2a"><text x="68.0" y="38.6" transform="rotate(0 68.0 38.6)" text-anchor="middle">0.5</text><text x="106.0" y="65.5" transform="rotate(0 106.0 65.5)" text-anchor="middle">0.5</text><text x="118.0" y="90.6" transform="rotate(0 118.0 90.6)" text-anchor="middle">1.5</text><text x="261.6" y="65.4" transform="rotate(0 261.6 65.4)" text-anchor="middle">1.5</text><text x="290.4" y="50.3" transform="rotate(0 290.4 50.3)" text-anchor="middle">0.5</text><text x="397.0" y="60.3" transform="rotate(0 397.0 60.3)" text-anchor="middle">0.5</text><text x="522.0" y="53.0" transform="rotate(-25 522.0 53.0)" text-anchor="middle">0.5</text><text x="517.5" y="87.6" transform="rotate(0 517.5 87.6)" text-anchor="middle">1.5</text><text x="78.5" y="325.0" transform="rotate(-20 78.5 325.0)" text-anchor="middle">1.5</text><text x="209.0" y="274.7" transform="rotate(0 209.0 274.7)" text-anchor="middle">0.5</text><text x="333.3" y="279.0" transform="rotate(0 333.3 279.0)" text-anchor="middle">0.5</text><text x="313.6" y="326.4" transform="rotate(-25 313.6 326.4)" text-anchor="middle">1.5</text></g>
<g font-family="Liberation Sans, sans-serif"><line x1="40.6" y1="16.5" x2="40.6" y2="167.3" stroke="#555" stroke-width="1"/><line x1="36.8" y1="53.0" x2="40.6" y2="53.0" stroke="#3a3a3a" stroke-width="1"/><text x="35" y="55.5" text-anchor="end" font-size="7.1" font-weight="bold" fill="#2a2a2a">0.00</text><line x1="36.8" y1="67.3" x2="40.6" y2="67.3" stroke="#3a3a3a" stroke-width="1"/><text x="35" y="69.8" text-anchor="end" font-size="7.1" font-weight="bold" fill="#2a2a2a">0.40</text><line x1="36.8" y1="81.6" x2="40.6" y2="81.6" stroke="#3a3a3a" stroke-width="1"/><text x="35" y="84.1" text-anchor="end" font-size="7.1" font-weight="bold" fill="#2a2a2a">0.80</text><line x1="36.8" y1="95.8" x2="40.6" y2="95.8" stroke="#3a3a3a" stroke-width="1"/><text x="35" y="98.3" text-anchor="end" font-size="7.1" font-weight="bold" fill="#2a2a2a">1.20</text><line x1="36.8" y1="110.1" x2="40.6" y2="110.1" stroke="#3a3a3a" stroke-width="1"/><text x="35" y="112.6" text-anchor="end" font-size="7.1" font-weight="bold" fill="#2a2a2a">1.60</text><line x1="36.8" y1="124.4" x2="40.6" y2="124.4" stroke="#3a3a3a" stroke-width="1"/><text x="35" y="126.9" text-anchor="end" font-size="7.1" font-weight="bold" fill="#2a2a2a">2.00</text><line x1="36.8" y1="138.7" x2="40.6" y2="138.7" stroke="#3a3a3a" stroke-width="1"/><text x="35" y="141.2" text-anchor="end" font-size="7.1" font-weight="bold" fill="#2a2a2a">2.40</text><line x1="36.8" y1="153.0" x2="40.6" y2="153.0" stroke="#3a3a3a" stroke-width="1"/><text x="35" y="155.5" text-anchor="end" font-size="7.1" font-weight="bold" fill="#2a2a2a">2.80</text><line x1="36.8" y1="167.2" x2="40.6" y2="167.2" stroke="#3a3a3a" stroke-width="1"/><text x="35" y="169.7" text-anchor="end" font-size="7.1" font-weight="bold" fill="#2a2a2a">3.20</text><line x1="41.5" y1="160" x2="41.5" y2="165" stroke="#777" stroke-width="0.8"/><text x="42.0" y="174" text-anchor="middle" font-size="6" font-weight="bold" fill="#2a2a2a">0</text><line x1="149.3" y1="160" x2="149.3" y2="165" stroke="#777" stroke-width="0.8"/><text x="149.8" y="174" text-anchor="middle" font-size="6" font-weight="bold" fill="#2a2a2a">3</text><line x1="257.3" y1="160" x2="257.3" y2="165" stroke="#777" stroke-width="0.8"/><text x="257.8" y="174" text-anchor="middle" font-size="6" font-weight="bold" fill="#2a2a2a">6</text><line x1="365.3" y1="160" x2="365.3" y2="165" stroke="#777" stroke-width="0.8"/><text x="365.8" y="174" text-anchor="middle" font-size="6" font-weight="bold" fill="#2a2a2a">9</text><line x1="473.0" y1="160" x2="473.0" y2="165" stroke="#777" stroke-width="0.8"/><text x="473.5" y="174" text-anchor="middle" font-size="6" font-weight="bold" fill="#2a2a2a">12</text><text transform="translate(9.3,87) rotate(-90)" text-anchor="middle" font-size="7.1" font-weight="bold" fill="#222">Depth (km)</text><text x="56.7" y="189.1" font-size="7.2" font-weight="bold" fill="#222">V.E. = 1x</text><text x="540.6" y="14.8" text-anchor="end" font-size="14.2" font-weight="bold" fill="#111">PT-03</text><line x1="60" y1="239.7" x2="60" y2="410.3" stroke="#555" stroke-width="1"/><line x1="56.6" y1="282.2" x2="60" y2="282.2" stroke="#3a3a3a" stroke-width="1"/><text x="54.8" y="284.4" text-anchor="end" font-size="6.3" font-weight="bold" fill="#2a2a2a">0.00</text><line x1="56.6" y1="298.8" x2="60" y2="298.8" stroke="#3a3a3a" stroke-width="1"/><text x="54.8" y="301.0" text-anchor="end" font-size="6.3" font-weight="bold" fill="#2a2a2a">0.40</text><line x1="56.6" y1="315.3" x2="60" y2="315.3" stroke="#3a3a3a" stroke-width="1"/><text x="54.8" y="317.5" text-anchor="end" font-size="6.3" font-weight="bold" fill="#2a2a2a">0.80</text><line x1="56.6" y1="331.9" x2="60" y2="331.9" stroke="#3a3a3a" stroke-width="1"/><text x="54.8" y="334.1" text-anchor="end" font-size="6.3" font-weight="bold" fill="#2a2a2a">1.20</text><line x1="56.6" y1="348.5" x2="60" y2="348.5" stroke="#3a3a3a" stroke-width="1"/><text x="54.8" y="350.7" text-anchor="end" font-size="6.3" font-weight="bold" fill="#2a2a2a">1.60</text><line x1="56.6" y1="365.0" x2="60" y2="365.0" stroke="#3a3a3a" stroke-width="1"/><text x="54.8" y="367.2" text-anchor="end" font-size="6.3" font-weight="bold" fill="#2a2a2a">2.00</text><line x1="56.6" y1="381.6" x2="60" y2="381.6" stroke="#3a3a3a" stroke-width="1"/><text x="54.8" y="383.8" text-anchor="end" font-size="6.3" font-weight="bold" fill="#2a2a2a">2.40</text><line x1="56.6" y1="398.2" x2="60" y2="398.2" stroke="#3a3a3a" stroke-width="1"/><text x="54.8" y="400.4" text-anchor="end" font-size="6.3" font-weight="bold" fill="#2a2a2a">2.80</text><line x1="56.6" y1="414.8" x2="60" y2="414.8" stroke="#3a3a3a" stroke-width="1"/><text x="54.8" y="417.0" text-anchor="end" font-size="6.3" font-weight="bold" fill="#2a2a2a">3.20</text><line x1="56.6" y1="431.3" x2="60" y2="431.3" stroke="#3a3a3a" stroke-width="1"/><text x="54.8" y="433.5" text-anchor="end" font-size="6.3" font-weight="bold" fill="#2a2a2a">3.60</text><line x1="61.0" y1="406" x2="61.0" y2="410.5" stroke="#777" stroke-width="0.8"/><text x="61.8" y="419" text-anchor="middle" font-size="5.6" font-weight="bold" fill="#2a2a2a">0</text><line x1="166.0" y1="406" x2="166.0" y2="410.5" stroke="#777" stroke-width="0.8"/><text x="166.8" y="419" text-anchor="middle" font-size="5.6" font-weight="bold" fill="#2a2a2a">2.5</text><line x1="270.6" y1="406" x2="270.6" y2="410.5" stroke="#777" stroke-width="0.8"/><text x="271.4" y="419" text-anchor="middle" font-size="5.6" font-weight="bold" fill="#2a2a2a">5</text><line x1="375.0" y1="406" x2="375.0" y2="410.5" stroke="#777" stroke-width="0.8"/><text x="375.8" y="419" text-anchor="middle" font-size="5.6" font-weight="bold" fill="#2a2a2a">7.5</text><line x1="480.2" y1="406" x2="480.2" y2="410.5" stroke="#777" stroke-width="0.8"/><text x="481.0" y="419" text-anchor="middle" font-size="5.6" font-weight="bold" fill="#2a2a2a">10</text><text transform="translate(28.3,322.5) rotate(-90)" text-anchor="middle" font-size="8.4" font-weight="bold" fill="#222">Depth (km)</text><text x="218" y="432.3" font-size="8.5" font-weight="bold" fill="#222">Distances in XY direction (km)</text><text x="91.3" y="453.4" font-size="8.5" font-weight="bold" fill="#222">V.E. = 1x</text><text x="450.8" y="232.6" font-size="16.4" font-weight="bold" fill="#111">PT-07</text></g>
<g font-family="Liberation Sans, sans-serif"><rect x="505.2" y="239.6" width="13.8" height="210.6" fill="url(#cbar)"/><line x1="505.2" y1="239.6" x2="522" y2="239.6" stroke="#333" stroke-width="0.5" stroke-opacity="0.7"/><text x="524.6" y="241.6" font-size="5.6" fill="#333">2</text><line x1="505.2" y1="292.2" x2="522" y2="292.2" stroke="#333" stroke-width="0.5" stroke-opacity="0.7"/><text x="524.6" y="294.2" font-size="5.6" fill="#333">1.5</text><line x1="505.2" y1="344.9" x2="522" y2="344.9" stroke="#333" stroke-width="0.5" stroke-opacity="0.7"/><text x="524.6" y="346.9" font-size="5.6" fill="#333">1</text><line x1="505.2" y1="397.6" x2="522" y2="397.6" stroke="#333" stroke-width="0.5" stroke-opacity="0.7"/><text x="524.6" y="399.6" font-size="5.6" fill="#333">0.5</text><line x1="505.2" y1="450.2" x2="522" y2="450.2" stroke="#333" stroke-width="0.5" stroke-opacity="0.7"/><text x="524.6" y="452.2" font-size="5.6" fill="#333">0</text><text transform="translate(544.3,347.7) rotate(-90)" text-anchor="middle" font-size="6.75" font-weight="bold" fill="#222">LOG10 [Resistivity (ohm m)]</text></g>
<g font-family="Liberation Sans, sans-serif"><rect x="240.2" y="180.2" width="108.8" height="63.1" fill="#ffffff" stroke="#b4b4b4" stroke-width="0.8"/><text x="243.3" y="188.3" font-size="8.3" font-weight="bold" fill="#111">LEGEND</text><line x1="244.5" y1="192.4" x2="247.3" y2="204.4" stroke="#e02020" stroke-width="1.1"/><line x1="244.5" y1="211" x2="247.3" y2="223" stroke="#4a4ae0" stroke-width="1.1"/><line x1="244.5" y1="228.4" x2="247.3" y2="240.4" stroke="#111" stroke-width="1.1"/><text x="249.0" y="200.8" font-size="8" font-weight="bold" fill="#111">(1)</text><text x="249.0" y="219.3" font-size="8" font-weight="bold" fill="#111">(2)</text><text x="249.0" y="236.4" font-size="8" font-weight="bold" fill="#111">(3)</text><text x="295.0" y="200.8" font-size="8" font-weight="bold" fill="#111">(4)</text><text x="295.0" y="219.3" font-size="8" font-weight="bold" fill="#111">(5)</text><text x="295.0" y="236.4" font-size="8" font-weight="bold" fill="#111">(6)</text><text x="326.8" y="200.8" font-size="8" font-weight="bold" fill="#111">(7)</text><text x="326.8" y="219.3" font-size="8" font-weight="bold" fill="#111">(8)</text><text x="339.0" y="236.4" font-size="8" font-weight="bold" fill="#111">(9)</text><path d="M268.5,198 C268.5,193.5 272,192.4 280,192.4 C289,192.4 293,193 293,197.5 C293,202.5 289,204.4 280,204.4 C271,204.4 268.5,202.5 268.5,198 Z" fill="#cccccc"/><polygon points="276.6,222.3 280.4,222.3 278.5,225.0" fill="#8a8a8a" stroke="#707070" stroke-width="0.4"/><text x="280.4" y="221.6" transform="rotate(-52 280.4 221.6)" font-size="6.4" font-weight="bold" fill="#3a3a3a">A078</text><polygon points="275.8,235.7 284.9,235.7 284.9,237.1 289.3,234.4 284.9,231.7 284.9,233.1 275.8,233.1" fill="#e81c1c"/><circle cx="320.5" cy="199.8" r="2.9" fill="none" stroke="#d8303c" stroke-width="0.9"/><path transform="translate(320.30 189.70) scale(1.00)" d="M4.4,0.9 C3.6,-0.1 1.0,0.1 1.1,1.6 C1.2,3.1 4.3,2.9 4.2,4.6 C4.1,6.0 1.6,6.3 0.9,5.4 M1.7,6.0 L0.3,7.3" fill="none" stroke="#d8303c" stroke-width="0.90"/><circle cx="320.2" cy="217.5" r="2.9" fill="none" stroke="#d8303c" stroke-width="0.9"/><line x1="321.9" y1="215.2" x2="324.1" y2="211.6" stroke="#d8303c" stroke-width="0.9"/><polygon points="326.5,208.4 322.9,210.8 325.7,212.6" fill="#e01c2c"/><line x1="310" y1="234.8" x2="312.3" y2="234.4" stroke="#222" stroke-width="1"/><text x="324.5" y="235.5" transform="rotate(25 324.5 235.5)" font-size="6.6" font-style="italic" fill="#222" text-anchor="middle">0.5</text><line x1="327" y1="237.6" x2="329.5" y2="238" stroke="#222" stroke-width="1"/><circle cx="337.6" cy="236.3" r="0.55" fill="#222"/></g>
</svg></body></html>
